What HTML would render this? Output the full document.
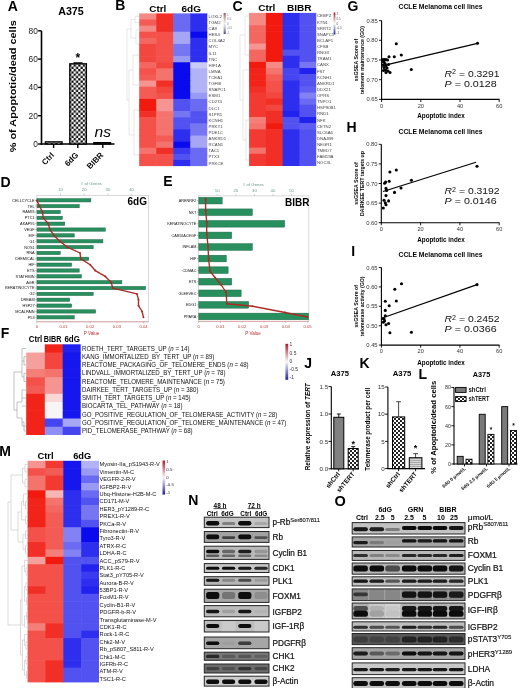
<!DOCTYPE html>
<html><head><meta charset="utf-8"><title>Figure</title>
<style>
html,body{margin:0;padding:0;background:#fff;width:520px;height:688px;overflow:hidden}
svg{display:block;font-family:'Liberation Sans', Arial, sans-serif}
</style></head><body>
<svg width="520" height="688" viewBox="0 0 520 688">
<defs>
<pattern id="chk" patternUnits="userSpaceOnUse" width="4.6" height="4.6"><rect width="4.6" height="4.6" fill="#fff"/><rect width="2.3" height="2.3" fill="#111"/><rect x="2.3" y="2.3" width="2.3" height="2.3" fill="#111"/></pattern>
<pattern id="chk2" patternUnits="userSpaceOnUse" width="4" height="4"><rect width="4" height="4" fill="#fff"/><rect width="2" height="2" fill="#222"/><rect x="2" y="2" width="2" height="2" fill="#222"/></pattern>
<pattern id="hln" patternUnits="userSpaceOnUse" width="4" height="2"><rect width="4" height="2" fill="#d8d8d8"/><rect width="4" height="1" fill="#a8a8a8"/></pattern>
<linearGradient id="lg" x1="0" y1="0" x2="0" y2="1"><stop offset="0" stop-color="#b2182b"/><stop offset="0.5" stop-color="#f7f7f7"/><stop offset="1" stop-color="#2020a0"/></linearGradient>
<linearGradient id="lg2" x1="0" y1="0" x2="0" y2="1"><stop offset="0" stop-color="#9a5a6a"/><stop offset="0.25" stop-color="#d8b0a8"/><stop offset="0.5" stop-color="#f4f0f0"/><stop offset="0.75" stop-color="#b0b0d8"/><stop offset="1" stop-color="#4a4a8a"/></linearGradient>
<filter id="bl" x="-50%" y="-50%" width="200%" height="200%"><feGaussianBlur stdDeviation="0.6"/></filter>
<filter id="bl2" x="-50%" y="-50%" width="200%" height="200%"><feGaussianBlur stdDeviation="1.4"/></filter>
</defs>
<rect width="520" height="688" fill="#fff"/>
<text x="7.8" y="10.6" font-size="14" font-weight="bold">A</text>
<text x="71" y="15.4" font-size="10.2" font-weight="bold" text-anchor="middle" textLength="25.6" lengthAdjust="spacingAndGlyphs">A375</text>
<text x="16.2" y="86.3" font-size="8.6" font-weight="bold" text-anchor="middle" textLength="132" lengthAdjust="spacingAndGlyphs" transform="rotate(-90 16.2 86.3)">% of Apoptotic/dead cells</text>
<line x1="41.5" y1="30.8" x2="41.5" y2="144.8" stroke="#000" stroke-width="1.6"/>
<line x1="40.7" y1="144" x2="114.5" y2="144" stroke="#000" stroke-width="1.6"/>
<line x1="38.1" y1="144" x2="41.5" y2="144" stroke="#000" stroke-width="1.4"/>
<text x="37.9" y="146.9" font-size="8.4" text-anchor="end" fill="#222">0</text>
<line x1="38.1" y1="115.7" x2="41.5" y2="115.7" stroke="#000" stroke-width="1.4"/>
<text x="37.9" y="118.6" font-size="8.4" text-anchor="end" fill="#222">20</text>
<line x1="38.1" y1="87.4" x2="41.5" y2="87.4" stroke="#000" stroke-width="1.4"/>
<text x="37.9" y="90.3" font-size="8.4" text-anchor="end" fill="#222">40</text>
<line x1="38.1" y1="59.1" x2="41.5" y2="59.1" stroke="#000" stroke-width="1.4"/>
<text x="37.9" y="62" font-size="8.4" text-anchor="end" fill="#222">60</text>
<line x1="38.1" y1="30.8" x2="41.5" y2="30.8" stroke="#000" stroke-width="1.4"/>
<text x="37.9" y="33.7" font-size="8.4" text-anchor="end" fill="#222">80</text>
<line x1="53.6" y1="144" x2="53.6" y2="148" stroke="#000" stroke-width="1.4"/>
<line x1="77.8" y1="144" x2="77.8" y2="148" stroke="#000" stroke-width="1.4"/>
<line x1="102.8" y1="144" x2="102.8" y2="148" stroke="#000" stroke-width="1.4"/>
<rect x="45.3" y="141.8" width="16.8" height="2.2" fill="url(#chk)" stroke="#000" stroke-width="1.2"/>
<rect x="69.8" y="63.8" width="16.6" height="80.2" fill="url(#chk)" stroke="#000" stroke-width="1.3"/>
<line x1="73.5" y1="62.9" x2="82.5" y2="62.9" stroke="#000" stroke-width="1.3"/>
<rect x="93.8" y="142.6" width="16.8" height="1.4" fill="#333" stroke="#000" stroke-width="1.2"/>
<text x="77.8" y="62.2" font-size="12" font-weight="bold" text-anchor="middle">*</text>
<text x="94.6" y="136.6" font-size="15.5" font-style="italic" textLength="16.5" lengthAdjust="spacingAndGlyphs">ns</text>
<text x="54.7" y="155.7" font-size="8" font-weight="bold" text-anchor="end" transform="rotate(-45 54.7 155.7)">Ctrl</text>
<text x="78.9" y="155.7" font-size="8" font-weight="bold" text-anchor="end" transform="rotate(-45 78.9 155.7)">6dG</text>
<text x="103.9" y="155.7" font-size="8" font-weight="bold" text-anchor="end" transform="rotate(-45 103.9 155.7)">BIBR</text>
<text x="115.2" y="10.2" font-size="14" font-weight="bold">B</text>
<text x="157.8" y="11.6" font-size="9.6" font-weight="bold" text-anchor="middle" textLength="17" lengthAdjust="spacingAndGlyphs">Ctrl</text>
<text x="191.3" y="11.6" font-size="9.6" font-weight="bold" text-anchor="middle" textLength="19.5" lengthAdjust="spacingAndGlyphs">6dG</text>
<rect x="139.2" y="13.4" width="17.62" height="6.71" fill="#f58984"/>
<rect x="156.22" y="13.4" width="17.62" height="6.71" fill="#f22f26"/>
<rect x="173.24" y="13.4" width="17.62" height="6.71" fill="#6a6af2"/>
<rect x="190.26" y="13.4" width="17.02" height="6.71" fill="#2e2eef"/>
<rect x="139.2" y="19.51" width="17.62" height="6.71" fill="#f35c55"/>
<rect x="156.22" y="19.51" width="17.62" height="6.71" fill="#f22f26"/>
<rect x="173.24" y="19.51" width="17.62" height="6.71" fill="#6a6af2"/>
<rect x="190.26" y="19.51" width="17.02" height="6.71" fill="#2e2eef"/>
<rect x="139.2" y="25.62" width="17.62" height="6.71" fill="#f58984"/>
<rect x="156.22" y="25.62" width="17.62" height="6.71" fill="#f22f26"/>
<rect x="173.24" y="25.62" width="17.62" height="6.71" fill="#6a6af2"/>
<rect x="190.26" y="25.62" width="17.02" height="6.71" fill="#2e2eef"/>
<rect x="139.2" y="31.72" width="17.62" height="6.71" fill="#f35149"/>
<rect x="156.22" y="31.72" width="17.62" height="6.71" fill="#f35149"/>
<rect x="173.24" y="31.72" width="17.62" height="6.71" fill="#a6a6f5"/>
<rect x="190.26" y="31.72" width="17.02" height="6.71" fill="#0a0aee"/>
<rect x="139.2" y="37.83" width="17.62" height="6.71" fill="#f46761"/>
<rect x="156.22" y="37.83" width="17.62" height="6.71" fill="#f35149"/>
<rect x="173.24" y="37.83" width="17.62" height="6.71" fill="#a6a6f5"/>
<rect x="190.26" y="37.83" width="17.02" height="6.71" fill="#2e2eef"/>
<rect x="139.2" y="43.94" width="17.62" height="6.71" fill="#f3463e"/>
<rect x="156.22" y="43.94" width="17.62" height="6.71" fill="#f35149"/>
<rect x="173.24" y="43.94" width="17.62" height="6.71" fill="#7676f3"/>
<rect x="190.26" y="43.94" width="17.02" height="6.71" fill="#2e2eef"/>
<rect x="139.2" y="50.05" width="17.62" height="6.71" fill="#f3463e"/>
<rect x="156.22" y="50.05" width="17.62" height="6.71" fill="#f35149"/>
<rect x="173.24" y="50.05" width="17.62" height="6.71" fill="#7676f3"/>
<rect x="190.26" y="50.05" width="17.02" height="6.71" fill="#2e2eef"/>
<rect x="139.2" y="56.16" width="17.62" height="6.71" fill="#f3463e"/>
<rect x="156.22" y="56.16" width="17.62" height="6.71" fill="#f35149"/>
<rect x="173.24" y="56.16" width="17.62" height="6.71" fill="#9a9af5"/>
<rect x="190.26" y="56.16" width="17.02" height="6.71" fill="#2e2eef"/>
<rect x="139.2" y="62.26" width="17.62" height="6.71" fill="#f46761"/>
<rect x="156.22" y="62.26" width="17.62" height="6.71" fill="#f3463e"/>
<rect x="173.24" y="62.26" width="17.62" height="6.71" fill="#0a0aee"/>
<rect x="190.26" y="62.26" width="17.02" height="6.71" fill="#cacaf7"/>
<rect x="139.2" y="68.37" width="17.62" height="6.71" fill="#f35149"/>
<rect x="156.22" y="68.37" width="17.62" height="6.71" fill="#f4736d"/>
<rect x="173.24" y="68.37" width="17.62" height="6.71" fill="#0a0aee"/>
<rect x="190.26" y="68.37" width="17.02" height="6.71" fill="#b2b2f6"/>
<rect x="139.2" y="74.48" width="17.62" height="6.71" fill="#f35c55"/>
<rect x="156.22" y="74.48" width="17.62" height="6.71" fill="#f4736d"/>
<rect x="173.24" y="74.48" width="17.62" height="6.71" fill="#0a0aee"/>
<rect x="190.26" y="74.48" width="17.02" height="6.71" fill="#b2b2f6"/>
<rect x="139.2" y="80.59" width="17.62" height="6.71" fill="#f59490"/>
<rect x="156.22" y="80.59" width="17.62" height="6.71" fill="#f22f26"/>
<rect x="173.24" y="80.59" width="17.62" height="6.71" fill="#0a0aee"/>
<rect x="190.26" y="80.59" width="17.02" height="6.71" fill="#b2b2f6"/>
<rect x="139.2" y="86.7" width="17.62" height="6.71" fill="#f35c55"/>
<rect x="156.22" y="86.7" width="17.62" height="6.71" fill="#f3463e"/>
<rect x="173.24" y="86.7" width="17.62" height="6.71" fill="#0a0aee"/>
<rect x="190.26" y="86.7" width="17.02" height="6.71" fill="#b2b2f6"/>
<rect x="139.2" y="92.8" width="17.62" height="6.71" fill="#f35c55"/>
<rect x="156.22" y="92.8" width="17.62" height="6.71" fill="#f35149"/>
<rect x="173.24" y="92.8" width="17.62" height="6.71" fill="#0a0aee"/>
<rect x="190.26" y="92.8" width="17.02" height="6.71" fill="#9a9af5"/>
<rect x="139.2" y="98.91" width="17.62" height="6.71" fill="#f2190f"/>
<rect x="156.22" y="98.91" width="17.62" height="6.71" fill="#f59490"/>
<rect x="173.24" y="98.91" width="17.62" height="6.71" fill="#5252f1"/>
<rect x="190.26" y="98.91" width="17.02" height="6.71" fill="#6a6af2"/>
<rect x="139.2" y="105.02" width="17.62" height="6.71" fill="#f2190f"/>
<rect x="156.22" y="105.02" width="17.62" height="6.71" fill="#f59490"/>
<rect x="173.24" y="105.02" width="17.62" height="6.71" fill="#5252f1"/>
<rect x="190.26" y="105.02" width="17.02" height="6.71" fill="#6a6af2"/>
<rect x="139.2" y="111.13" width="17.62" height="6.71" fill="#f22f26"/>
<rect x="156.22" y="111.13" width="17.62" height="6.71" fill="#f4736d"/>
<rect x="173.24" y="111.13" width="17.62" height="6.71" fill="#7676f3"/>
<rect x="190.26" y="111.13" width="17.02" height="6.71" fill="#5252f1"/>
<rect x="139.2" y="117.24" width="17.62" height="6.71" fill="#f35149"/>
<rect x="156.22" y="117.24" width="17.62" height="6.71" fill="#f4736d"/>
<rect x="173.24" y="117.24" width="17.62" height="6.71" fill="#5252f1"/>
<rect x="190.26" y="117.24" width="17.02" height="6.71" fill="#5252f1"/>
<rect x="139.2" y="123.34" width="17.62" height="6.71" fill="#f35149"/>
<rect x="156.22" y="123.34" width="17.62" height="6.71" fill="#f4736d"/>
<rect x="173.24" y="123.34" width="17.62" height="6.71" fill="#5252f1"/>
<rect x="190.26" y="123.34" width="17.02" height="6.71" fill="#7676f3"/>
<rect x="139.2" y="129.45" width="17.62" height="6.71" fill="#f35149"/>
<rect x="156.22" y="129.45" width="17.62" height="6.71" fill="#f4736d"/>
<rect x="173.24" y="129.45" width="17.62" height="6.71" fill="#2e2eef"/>
<rect x="190.26" y="129.45" width="17.02" height="6.71" fill="#7676f3"/>
<rect x="139.2" y="135.56" width="17.62" height="6.71" fill="#f35149"/>
<rect x="156.22" y="135.56" width="17.62" height="6.71" fill="#f35c55"/>
<rect x="173.24" y="135.56" width="17.62" height="6.71" fill="#2e2eef"/>
<rect x="190.26" y="135.56" width="17.02" height="6.71" fill="#a6a6f5"/>
<rect x="139.2" y="141.67" width="17.62" height="6.71" fill="#f35149"/>
<rect x="156.22" y="141.67" width="17.62" height="6.71" fill="#f4736d"/>
<rect x="173.24" y="141.67" width="17.62" height="6.71" fill="#0a0aee"/>
<rect x="190.26" y="141.67" width="17.02" height="6.71" fill="#a6a6f5"/>
<rect x="139.2" y="147.78" width="17.62" height="6.71" fill="#f4736d"/>
<rect x="156.22" y="147.78" width="17.62" height="6.71" fill="#f22f26"/>
<rect x="173.24" y="147.78" width="17.62" height="6.71" fill="#3a3af0"/>
<rect x="190.26" y="147.78" width="17.02" height="6.71" fill="#6a6af2"/>
<rect x="139.2" y="153.88" width="17.62" height="6.71" fill="#f35149"/>
<rect x="156.22" y="153.88" width="17.62" height="6.71" fill="#f35149"/>
<rect x="173.24" y="153.88" width="17.62" height="6.71" fill="#5252f1"/>
<rect x="190.26" y="153.88" width="17.02" height="6.71" fill="#6a6af2"/>
<rect x="139.2" y="159.99" width="17.62" height="6.11" fill="#f35149"/>
<rect x="156.22" y="159.99" width="17.62" height="6.11" fill="#f35149"/>
<rect x="173.24" y="159.99" width="17.62" height="6.11" fill="#2e2eef"/>
<rect x="190.26" y="159.99" width="17.02" height="6.11" fill="#6a6af2"/>
<text x="208.6" y="17.95" font-size="4.3" fill="#444">LOXL2</text>
<text x="208.6" y="24.06" font-size="4.3" fill="#444">TGM2</text>
<text x="208.6" y="30.17" font-size="4.3" fill="#444">CA9</text>
<text x="208.6" y="36.28" font-size="4.3" fill="#444">HES4</text>
<text x="208.6" y="42.39" font-size="4.3" fill="#444">COL4A2</text>
<text x="208.6" y="48.49" font-size="4.3" fill="#444">MYC</text>
<text x="208.6" y="54.6" font-size="4.3" fill="#444">IL11</text>
<text x="208.6" y="60.71" font-size="4.3" fill="#444">TNC</text>
<text x="208.6" y="66.82" font-size="4.3" fill="#444">HIF1A</text>
<text x="208.6" y="72.93" font-size="4.3" fill="#444">LMNA</text>
<text x="208.6" y="79.03" font-size="4.3" fill="#444">TCEA1</text>
<text x="208.6" y="85.14" font-size="4.3" fill="#444">TGFBI</text>
<text x="208.6" y="91.25" font-size="4.3" fill="#444">SNAPC1</text>
<text x="208.6" y="97.36" font-size="4.3" fill="#444">ESM1</text>
<text x="208.6" y="103.47" font-size="4.3" fill="#444">CD274</text>
<text x="208.6" y="109.57" font-size="4.3" fill="#444">DLC1</text>
<text x="208.6" y="115.68" font-size="4.3" fill="#444">S1PR1</text>
<text x="208.6" y="121.79" font-size="4.3" fill="#444">KCNH1</text>
<text x="208.6" y="127.9" font-size="4.3" fill="#444">PRKY1</text>
<text x="208.6" y="134.01" font-size="4.3" fill="#444">PDE1C</text>
<text x="208.6" y="140.11" font-size="4.3" fill="#444">ANKRD1</text>
<text x="208.6" y="146.22" font-size="4.3" fill="#444">RCAN1</text>
<text x="208.6" y="152.33" font-size="4.3" fill="#444">TAC1</text>
<text x="208.6" y="158.44" font-size="4.3" fill="#444">PTX3</text>
<text x="208.6" y="164.55" font-size="4.3" fill="#444">PRKCE</text>
<rect x="223.6" y="13" width="2.2" height="21" fill="url(#lg2)"/>
<text x="227" y="15.6" font-size="3" fill="#7a7a9a">1</text>
<text x="227" y="20.1" font-size="3" fill="#7a7a9a">0.5</text>
<text x="227" y="24.6" font-size="3" fill="#7a7a9a">0</text>
<text x="227" y="29.1" font-size="3" fill="#7a7a9a">-0.5</text>
<text x="227" y="33.6" font-size="3" fill="#7a7a9a">-1</text>
<polyline points="139,16.5 135,16.5 135,22.6 139,22.6" fill="none" stroke="#d6d6d6" stroke-width="0.6"/>
<polyline points="135,19.5 131,19.5 131,38 136,38 136,30 139,30" fill="none" stroke="#d6d6d6" stroke-width="0.6"/>
<polyline points="136,38 136,44 139,44" fill="none" stroke="#d6d6d6" stroke-width="0.6"/>
<polyline points="131,29 127,29 127,100 129,100" fill="none" stroke="#d6d6d6" stroke-width="0.6"/>
<polyline points="129,100 129,70 133,70 133,55 139,55" fill="none" stroke="#d6d6d6" stroke-width="0.6"/>
<polyline points="133,70 133,85 139,85" fill="none" stroke="#d6d6d6" stroke-width="0.6"/>
<polyline points="129,100 129,135 134,135 134,110 139,110" fill="none" stroke="#d6d6d6" stroke-width="0.6"/>
<polyline points="134,135 134,155 139,155" fill="none" stroke="#d6d6d6" stroke-width="0.6"/>
<text x="232.4" y="11.3" font-size="14" font-weight="bold">C</text>
<text x="266.8" y="11.2" font-size="9.6" font-weight="bold" text-anchor="middle" textLength="17.2" lengthAdjust="spacingAndGlyphs">Ctrl</text>
<text x="299.2" y="11.2" font-size="9.8" font-weight="bold" text-anchor="middle" textLength="24.6" lengthAdjust="spacingAndGlyphs">BIBR</text>
<rect x="249.1" y="12.9" width="17.38" height="6.72" fill="#f58984"/>
<rect x="265.88" y="12.9" width="17.38" height="6.72" fill="#f2190f"/>
<rect x="282.66" y="12.9" width="17.38" height="6.72" fill="#2e2eef"/>
<rect x="299.44" y="12.9" width="16.78" height="6.72" fill="#5252f1"/>
<rect x="249.1" y="19.02" width="17.38" height="6.72" fill="#f58984"/>
<rect x="265.88" y="19.02" width="17.38" height="6.72" fill="#f2190f"/>
<rect x="282.66" y="19.02" width="17.38" height="6.72" fill="#2e2eef"/>
<rect x="299.44" y="19.02" width="16.78" height="6.72" fill="#5252f1"/>
<rect x="249.1" y="25.15" width="17.38" height="6.72" fill="#f46761"/>
<rect x="265.88" y="25.15" width="17.38" height="6.72" fill="#f2190f"/>
<rect x="282.66" y="25.15" width="17.38" height="6.72" fill="#2e2eef"/>
<rect x="299.44" y="25.15" width="16.78" height="6.72" fill="#5252f1"/>
<rect x="249.1" y="31.27" width="17.38" height="6.72" fill="#f46761"/>
<rect x="265.88" y="31.27" width="17.38" height="6.72" fill="#f2190f"/>
<rect x="282.66" y="31.27" width="17.38" height="6.72" fill="#2e2eef"/>
<rect x="299.44" y="31.27" width="16.78" height="6.72" fill="#5252f1"/>
<rect x="249.1" y="37.4" width="17.38" height="6.72" fill="#f46761"/>
<rect x="265.88" y="37.4" width="17.38" height="6.72" fill="#f2190f"/>
<rect x="282.66" y="37.4" width="17.38" height="6.72" fill="#2e2eef"/>
<rect x="299.44" y="37.4" width="16.78" height="6.72" fill="#5252f1"/>
<rect x="249.1" y="43.52" width="17.38" height="6.72" fill="#f59490"/>
<rect x="265.88" y="43.52" width="17.38" height="6.72" fill="#f2190f"/>
<rect x="282.66" y="43.52" width="17.38" height="6.72" fill="#2e2eef"/>
<rect x="299.44" y="43.52" width="16.78" height="6.72" fill="#5252f1"/>
<rect x="249.1" y="49.64" width="17.38" height="6.72" fill="#f46761"/>
<rect x="265.88" y="49.64" width="17.38" height="6.72" fill="#f2190f"/>
<rect x="282.66" y="49.64" width="17.38" height="6.72" fill="#5252f1"/>
<rect x="299.44" y="49.64" width="16.78" height="6.72" fill="#5252f1"/>
<rect x="249.1" y="55.77" width="17.38" height="6.72" fill="#f46761"/>
<rect x="265.88" y="55.77" width="17.38" height="6.72" fill="#f2190f"/>
<rect x="282.66" y="55.77" width="17.38" height="6.72" fill="#2e2eef"/>
<rect x="299.44" y="55.77" width="16.78" height="6.72" fill="#5252f1"/>
<rect x="249.1" y="61.89" width="17.38" height="6.72" fill="#f2190f"/>
<rect x="265.88" y="61.89" width="17.38" height="6.72" fill="#f58984"/>
<rect x="282.66" y="61.89" width="17.38" height="6.72" fill="#2e2eef"/>
<rect x="299.44" y="61.89" width="16.78" height="6.72" fill="#7676f3"/>
<rect x="249.1" y="68.02" width="17.38" height="6.72" fill="#f2241a"/>
<rect x="265.88" y="68.02" width="17.38" height="6.72" fill="#f4736d"/>
<rect x="282.66" y="68.02" width="17.38" height="6.72" fill="#4646f1"/>
<rect x="299.44" y="68.02" width="16.78" height="6.72" fill="#2222ef"/>
<rect x="249.1" y="74.14" width="17.38" height="6.72" fill="#f2241a"/>
<rect x="265.88" y="74.14" width="17.38" height="6.72" fill="#f35c55"/>
<rect x="282.66" y="74.14" width="17.38" height="6.72" fill="#4646f1"/>
<rect x="299.44" y="74.14" width="16.78" height="6.72" fill="#5252f1"/>
<rect x="249.1" y="80.26" width="17.38" height="6.72" fill="#f2241a"/>
<rect x="265.88" y="80.26" width="17.38" height="6.72" fill="#f35149"/>
<rect x="282.66" y="80.26" width="17.38" height="6.72" fill="#2e2eef"/>
<rect x="299.44" y="80.26" width="16.78" height="6.72" fill="#5252f1"/>
<rect x="249.1" y="86.39" width="17.38" height="6.72" fill="#f22f26"/>
<rect x="265.88" y="86.39" width="17.38" height="6.72" fill="#f35149"/>
<rect x="282.66" y="86.39" width="17.38" height="6.72" fill="#2e2eef"/>
<rect x="299.44" y="86.39" width="16.78" height="6.72" fill="#5e5ef2"/>
<rect x="249.1" y="92.51" width="17.38" height="6.72" fill="#f23a32"/>
<rect x="265.88" y="92.51" width="17.38" height="6.72" fill="#f3463e"/>
<rect x="282.66" y="92.51" width="17.38" height="6.72" fill="#2e2eef"/>
<rect x="299.44" y="92.51" width="16.78" height="6.72" fill="#8282f4"/>
<rect x="249.1" y="98.64" width="17.38" height="6.72" fill="#f23a32"/>
<rect x="265.88" y="98.64" width="17.38" height="6.72" fill="#f22f26"/>
<rect x="282.66" y="98.64" width="17.38" height="6.72" fill="#2e2eef"/>
<rect x="299.44" y="98.64" width="16.78" height="6.72" fill="#6a6af2"/>
<rect x="249.1" y="104.76" width="17.38" height="6.72" fill="#f23a32"/>
<rect x="265.88" y="104.76" width="17.38" height="6.72" fill="#f3463e"/>
<rect x="282.66" y="104.76" width="17.38" height="6.72" fill="#2e2eef"/>
<rect x="299.44" y="104.76" width="16.78" height="6.72" fill="#5252f1"/>
<rect x="249.1" y="110.88" width="17.38" height="6.72" fill="#f23a32"/>
<rect x="265.88" y="110.88" width="17.38" height="6.72" fill="#f22f26"/>
<rect x="282.66" y="110.88" width="17.38" height="6.72" fill="#2222ef"/>
<rect x="299.44" y="110.88" width="16.78" height="6.72" fill="#5252f1"/>
<rect x="249.1" y="117.01" width="17.38" height="6.72" fill="#f47e78"/>
<rect x="265.88" y="117.01" width="17.38" height="6.72" fill="#f22f26"/>
<rect x="282.66" y="117.01" width="17.38" height="6.72" fill="#5252f1"/>
<rect x="299.44" y="117.01" width="16.78" height="6.72" fill="#2222ef"/>
<rect x="249.1" y="123.13" width="17.38" height="6.72" fill="#f4736d"/>
<rect x="265.88" y="123.13" width="17.38" height="6.72" fill="#f2190f"/>
<rect x="282.66" y="123.13" width="17.38" height="6.72" fill="#5252f1"/>
<rect x="299.44" y="123.13" width="16.78" height="6.72" fill="#5e5ef2"/>
<rect x="249.1" y="129.26" width="17.38" height="6.72" fill="#f23a32"/>
<rect x="265.88" y="129.26" width="17.38" height="6.72" fill="#f22f26"/>
<rect x="282.66" y="129.26" width="17.38" height="6.72" fill="#2e2eef"/>
<rect x="299.44" y="129.26" width="16.78" height="6.72" fill="#5252f1"/>
<rect x="249.1" y="135.38" width="17.38" height="6.72" fill="#f23a32"/>
<rect x="265.88" y="135.38" width="17.38" height="6.72" fill="#f22f26"/>
<rect x="282.66" y="135.38" width="17.38" height="6.72" fill="#2e2eef"/>
<rect x="299.44" y="135.38" width="16.78" height="6.72" fill="#5252f1"/>
<rect x="249.1" y="141.5" width="17.38" height="6.72" fill="#f23a32"/>
<rect x="265.88" y="141.5" width="17.38" height="6.72" fill="#f22f26"/>
<rect x="282.66" y="141.5" width="17.38" height="6.72" fill="#2e2eef"/>
<rect x="299.44" y="141.5" width="16.78" height="6.72" fill="#5252f1"/>
<rect x="249.1" y="147.63" width="17.38" height="6.72" fill="#f4736d"/>
<rect x="265.88" y="147.63" width="17.38" height="6.72" fill="#f22f26"/>
<rect x="282.66" y="147.63" width="17.38" height="6.72" fill="#2e2eef"/>
<rect x="299.44" y="147.63" width="16.78" height="6.72" fill="#5252f1"/>
<rect x="249.1" y="153.75" width="17.38" height="6.72" fill="#f23a32"/>
<rect x="265.88" y="153.75" width="17.38" height="6.72" fill="#f22f26"/>
<rect x="282.66" y="153.75" width="17.38" height="6.72" fill="#2e2eef"/>
<rect x="299.44" y="153.75" width="16.78" height="6.72" fill="#5252f1"/>
<rect x="249.1" y="159.88" width="17.38" height="6.12" fill="#f23a32"/>
<rect x="265.88" y="159.88" width="17.38" height="6.12" fill="#f22f26"/>
<rect x="282.66" y="159.88" width="17.38" height="6.12" fill="#2e2eef"/>
<rect x="299.44" y="159.88" width="16.78" height="6.12" fill="#5252f1"/>
<text x="317" y="17.46" font-size="4.3" fill="#444">CEBPZ</text>
<text x="317" y="23.59" font-size="4.3" fill="#444">KTN1</text>
<text x="317" y="29.71" font-size="4.3" fill="#444">SRRT2</text>
<text x="317" y="35.83" font-size="4.3" fill="#444">SNAPC1</text>
<text x="317" y="41.96" font-size="4.3" fill="#444">BCLAF1</text>
<text x="317" y="48.08" font-size="4.3" fill="#444">CFSB</text>
<text x="317" y="54.21" font-size="4.3" fill="#444">RNG3</text>
<text x="317" y="60.33" font-size="4.3" fill="#444">TRAM1</text>
<text x="317" y="66.45" font-size="4.3" fill="#444">CANX</text>
<text x="317" y="72.58" font-size="4.3" fill="#444">FST</text>
<text x="317" y="78.7" font-size="4.3" fill="#444">KCNH1</text>
<text x="317" y="84.83" font-size="4.3" fill="#444">ANKRD1</text>
<text x="317" y="90.95" font-size="4.3" fill="#444">DDX21</text>
<text x="317" y="97.07" font-size="4.3" fill="#444">OPRS</text>
<text x="317" y="103.2" font-size="4.3" fill="#444">TNPO1</text>
<text x="317" y="109.32" font-size="4.3" fill="#444">HSP90B1</text>
<text x="317" y="115.45" font-size="4.3" fill="#444">RND1</text>
<text x="317" y="121.57" font-size="4.3" fill="#444">NFK</text>
<text x="317" y="127.69" font-size="4.3" fill="#444">CETN2</text>
<text x="317" y="133.82" font-size="4.3" fill="#444">SLC6A6</text>
<text x="317" y="139.94" font-size="4.3" fill="#444">DNAJB9</text>
<text x="317" y="146.07" font-size="4.3" fill="#444">NEGR1</text>
<text x="317" y="152.19" font-size="4.3" fill="#444">TMED7</text>
<text x="317" y="158.31" font-size="4.3" fill="#444">FAM19A</text>
<text x="317" y="164.44" font-size="4.3" fill="#444">NOC3L</text>
<rect x="333.6" y="12.5" width="1.8" height="22" fill="url(#lg)"/>
<text x="336.6" y="15.1" font-size="3" fill="#555">1</text>
<text x="336.6" y="19.85" font-size="3" fill="#555">0.5</text>
<text x="336.6" y="24.6" font-size="3" fill="#555">0</text>
<text x="336.6" y="29.35" font-size="3" fill="#555">-0.5</text>
<text x="336.6" y="34.1" font-size="3" fill="#555">-1</text>
<polyline points="249,16 245,16 245,55 249,55" fill="none" stroke="#d6d6d6" stroke-width="0.6"/>
<polyline points="245,35 240,35 240,100 243,100" fill="none" stroke="#d6d6d6" stroke-width="0.6"/>
<polyline points="243,100 243,70 249,70" fill="none" stroke="#d6d6d6" stroke-width="0.6"/>
<polyline points="243,100 243,140 246,140 246,120 249,120" fill="none" stroke="#d6d6d6" stroke-width="0.6"/>
<polyline points="246,140 246,160 249,160" fill="none" stroke="#d6d6d6" stroke-width="0.6"/>
<text x="347.6" y="10.8" font-size="14" font-weight="bold">G</text>
<text x="440.5" y="8.7" font-size="6.6" font-weight="bold" text-anchor="middle" textLength="84" lengthAdjust="spacingAndGlyphs">CCLE Melanoma cell lines</text>
<line x1="381.6" y1="20.6" x2="381.6" y2="99.9" stroke="#000" stroke-width="1.1"/>
<line x1="381.1" y1="99.4" x2="499.5" y2="99.4" stroke="#000" stroke-width="1.1"/>
<line x1="379" y1="20.6" x2="381.6" y2="20.6" stroke="#000" stroke-width="0.9"/>
<text x="377.8" y="22.6" font-size="5.8" text-anchor="end" fill="#333">0.85</text>
<line x1="379" y1="40.3" x2="381.6" y2="40.3" stroke="#000" stroke-width="0.9"/>
<text x="377.8" y="42.3" font-size="5.8" text-anchor="end" fill="#333">0.80</text>
<line x1="379" y1="60" x2="381.6" y2="60" stroke="#000" stroke-width="0.9"/>
<text x="377.8" y="62" font-size="5.8" text-anchor="end" fill="#333">0.75</text>
<line x1="379" y1="79.7" x2="381.6" y2="79.7" stroke="#000" stroke-width="0.9"/>
<text x="377.8" y="81.7" font-size="5.8" text-anchor="end" fill="#333">0.70</text>
<line x1="379" y1="99.4" x2="381.6" y2="99.4" stroke="#000" stroke-width="0.9"/>
<text x="377.8" y="101.4" font-size="5.8" text-anchor="end" fill="#333">0.65</text>
<line x1="381.6" y1="99.4" x2="381.6" y2="102" stroke="#000" stroke-width="0.9"/>
<text x="381.6" y="107.7" font-size="5.6" text-anchor="middle" fill="#333">0</text>
<line x1="420.8" y1="99.4" x2="420.8" y2="102" stroke="#000" stroke-width="0.9"/>
<text x="420.8" y="107.7" font-size="5.6" text-anchor="middle" fill="#333">20</text>
<line x1="460" y1="99.4" x2="460" y2="102" stroke="#000" stroke-width="0.9"/>
<text x="460" y="107.7" font-size="5.6" text-anchor="middle" fill="#333">40</text>
<line x1="499.2" y1="99.4" x2="499.2" y2="102" stroke="#000" stroke-width="0.9"/>
<text x="499.2" y="107.7" font-size="5.6" text-anchor="middle" fill="#333">60</text>
<text x="441" y="118.3" font-size="6.9" font-weight="bold" text-anchor="middle" textLength="47.5" lengthAdjust="spacingAndGlyphs">Apoptotic index</text>
<circle cx="396.3" cy="43.8" r="1.55" fill="#000"/>
<circle cx="401.3" cy="55" r="1.55" fill="#000"/>
<circle cx="394.3" cy="56.8" r="1.55" fill="#000"/>
<circle cx="389" cy="56.8" r="1.55" fill="#000"/>
<circle cx="477.5" cy="43.3" r="1.55" fill="#000"/>
<circle cx="411.3" cy="69.5" r="1.55" fill="#000"/>
<circle cx="390" cy="72.5" r="1.55" fill="#000"/>
<circle cx="383" cy="59.5" r="1.55" fill="#000"/>
<circle cx="384.5" cy="59.5" r="1.55" fill="#000"/>
<circle cx="386" cy="59.5" r="1.55" fill="#000"/>
<circle cx="387.5" cy="60" r="1.55" fill="#000"/>
<circle cx="383.5" cy="62" r="1.55" fill="#000"/>
<circle cx="385" cy="63.5" r="1.55" fill="#000"/>
<circle cx="383" cy="65" r="1.55" fill="#000"/>
<circle cx="386" cy="66" r="1.55" fill="#000"/>
<circle cx="384" cy="67.5" r="1.55" fill="#000"/>
<circle cx="387" cy="68" r="1.55" fill="#000"/>
<circle cx="385.5" cy="70" r="1.55" fill="#000"/>
<circle cx="388" cy="71" r="1.55" fill="#000"/>
<circle cx="386" cy="72.5" r="1.55" fill="#000"/>
<circle cx="383.5" cy="70.5" r="1.55" fill="#000"/>
<circle cx="388.5" cy="64.5" r="1.55" fill="#000"/>
<circle cx="384" cy="61" r="1.55" fill="#000"/>
<line x1="382" y1="65.8" x2="477.5" y2="43.3" stroke="#000" stroke-width="1.2"/>
<text x="444.6" y="76.8" font-size="9.6" fill="#111" textLength="55" lengthAdjust="spacingAndGlyphs"><tspan font-style="italic">R</tspan><tspan font-size="6.6" dy="-2.6">2</tspan><tspan dy="2.6"> = 0.3291</tspan></text>
<text x="444.6" y="86.6" font-size="9.6" fill="#111" textLength="52" lengthAdjust="spacingAndGlyphs"><tspan font-style="italic">P</tspan> = 0.0128</text>
<text x="358.3" y="60" font-size="5.2" font-weight="bold" text-anchor="middle" transform="rotate(-90 358.3 60)">ssGSEA Score of</text>
<text x="363.6" y="60" font-size="5.2" font-weight="bold" text-anchor="middle" transform="rotate(-90 363.6 60)">telomere maintenance (GO)</text>
<text x="346.6" y="131.6" font-size="14" font-weight="bold">H</text>
<text x="440.5" y="134" font-size="6.6" font-weight="bold" text-anchor="middle" textLength="84" lengthAdjust="spacingAndGlyphs">CCLE Melanoma cell lines</text>
<line x1="381.3" y1="144.3" x2="381.3" y2="223.2" stroke="#000" stroke-width="1.1"/>
<line x1="380.8" y1="222.7" x2="499.5" y2="222.7" stroke="#000" stroke-width="1.1"/>
<line x1="378.7" y1="144.3" x2="381.3" y2="144.3" stroke="#000" stroke-width="0.9"/>
<text x="377.5" y="146.3" font-size="5.8" text-anchor="end" fill="#333">0.80</text>
<line x1="378.7" y1="163.9" x2="381.3" y2="163.9" stroke="#000" stroke-width="0.9"/>
<text x="377.5" y="165.9" font-size="5.8" text-anchor="end" fill="#333">0.75</text>
<line x1="378.7" y1="183.5" x2="381.3" y2="183.5" stroke="#000" stroke-width="0.9"/>
<text x="377.5" y="185.5" font-size="5.8" text-anchor="end" fill="#333">0.70</text>
<line x1="378.7" y1="203.1" x2="381.3" y2="203.1" stroke="#000" stroke-width="0.9"/>
<text x="377.5" y="205.1" font-size="5.8" text-anchor="end" fill="#333">0.65</text>
<line x1="378.7" y1="222.7" x2="381.3" y2="222.7" stroke="#000" stroke-width="0.9"/>
<text x="377.5" y="224.7" font-size="5.8" text-anchor="end" fill="#333">0.60</text>
<line x1="381.3" y1="222.7" x2="381.3" y2="225.3" stroke="#000" stroke-width="0.9"/>
<text x="381.3" y="231" font-size="5.6" text-anchor="middle" fill="#333">0</text>
<line x1="420.6" y1="222.7" x2="420.6" y2="225.3" stroke="#000" stroke-width="0.9"/>
<text x="420.6" y="231" font-size="5.6" text-anchor="middle" fill="#333">20</text>
<line x1="459.9" y1="222.7" x2="459.9" y2="225.3" stroke="#000" stroke-width="0.9"/>
<text x="459.9" y="231" font-size="5.6" text-anchor="middle" fill="#333">40</text>
<line x1="499.2" y1="222.7" x2="499.2" y2="225.3" stroke="#000" stroke-width="0.9"/>
<text x="499.2" y="231" font-size="5.6" text-anchor="middle" fill="#333">60</text>
<text x="441" y="242.2" font-size="6.9" font-weight="bold" text-anchor="middle" textLength="47.5" lengthAdjust="spacingAndGlyphs">Apoptotic index</text>
<circle cx="477" cy="166.3" r="1.55" fill="#000"/>
<circle cx="396.3" cy="170" r="1.55" fill="#000"/>
<circle cx="389.9" cy="172" r="1.55" fill="#000"/>
<circle cx="411.4" cy="180.2" r="1.55" fill="#000"/>
<circle cx="401" cy="188" r="1.55" fill="#000"/>
<circle cx="384.6" cy="183.2" r="1.55" fill="#000"/>
<circle cx="385.6" cy="182.1" r="1.55" fill="#000"/>
<circle cx="389.2" cy="181.2" r="1.55" fill="#000"/>
<circle cx="386" cy="188.4" r="1.55" fill="#000"/>
<circle cx="386.6" cy="190.4" r="1.55" fill="#000"/>
<circle cx="386" cy="195.6" r="1.55" fill="#000"/>
<circle cx="388.6" cy="200.9" r="1.55" fill="#000"/>
<circle cx="384" cy="200.2" r="1.55" fill="#000"/>
<circle cx="385.3" cy="202.8" r="1.55" fill="#000"/>
<circle cx="386" cy="204.8" r="1.55" fill="#000"/>
<circle cx="383.3" cy="208" r="1.55" fill="#000"/>
<circle cx="394.5" cy="192.4" r="1.55" fill="#000"/>
<line x1="383" y1="191.5" x2="476" y2="162.3" stroke="#000" stroke-width="1.2"/>
<text x="444.6" y="194.4" font-size="9.6" fill="#111" textLength="55" lengthAdjust="spacingAndGlyphs"><tspan font-style="italic">R</tspan><tspan font-size="6.6" dy="-2.6">2</tspan><tspan dy="2.6"> = 0.3192</tspan></text>
<text x="444.6" y="204.2" font-size="9.6" fill="#111" textLength="52" lengthAdjust="spacingAndGlyphs"><tspan font-style="italic">P</tspan> = 0.0146</text>
<text x="358.3" y="183.5" font-size="5.2" font-weight="bold" text-anchor="middle" transform="rotate(-90 358.3 183.5)">ssGSEA Score of</text>
<text x="363.6" y="183.5" font-size="5.2" font-weight="bold" text-anchor="middle" transform="rotate(-90 363.6 183.5)">DAIRKEE TERT targets up</text>
<text x="351.2" y="255.6" font-size="14" font-weight="bold">I</text>
<text x="440.5" y="256.5" font-size="6.6" font-weight="bold" text-anchor="middle" textLength="84" lengthAdjust="spacingAndGlyphs">CCLE Melanoma cell lines</text>
<line x1="381.4" y1="267.5" x2="381.4" y2="345.6" stroke="#000" stroke-width="1.1"/>
<line x1="380.9" y1="345.1" x2="499.5" y2="345.1" stroke="#000" stroke-width="1.1"/>
<line x1="378.8" y1="267.5" x2="381.4" y2="267.5" stroke="#000" stroke-width="0.9"/>
<text x="377.6" y="269.5" font-size="5.8" text-anchor="end" fill="#333">0.65</text>
<line x1="378.8" y1="286.9" x2="381.4" y2="286.9" stroke="#000" stroke-width="0.9"/>
<text x="377.6" y="288.9" font-size="5.8" text-anchor="end" fill="#333">0.60</text>
<line x1="378.8" y1="306.3" x2="381.4" y2="306.3" stroke="#000" stroke-width="0.9"/>
<text x="377.6" y="308.3" font-size="5.8" text-anchor="end" fill="#333">0.55</text>
<line x1="378.8" y1="325.7" x2="381.4" y2="325.7" stroke="#000" stroke-width="0.9"/>
<text x="377.6" y="327.7" font-size="5.8" text-anchor="end" fill="#333">0.50</text>
<line x1="378.8" y1="345.1" x2="381.4" y2="345.1" stroke="#000" stroke-width="0.9"/>
<text x="377.6" y="347.1" font-size="5.8" text-anchor="end" fill="#333">0.45</text>
<line x1="381.4" y1="345.1" x2="381.4" y2="347.7" stroke="#000" stroke-width="0.9"/>
<text x="381.4" y="353.4" font-size="5.6" text-anchor="middle" fill="#333">0</text>
<line x1="420.67" y1="345.1" x2="420.67" y2="347.7" stroke="#000" stroke-width="0.9"/>
<text x="420.67" y="353.4" font-size="5.6" text-anchor="middle" fill="#333">20</text>
<line x1="459.93" y1="345.1" x2="459.93" y2="347.7" stroke="#000" stroke-width="0.9"/>
<text x="459.93" y="353.4" font-size="5.6" text-anchor="middle" fill="#333">40</text>
<line x1="499.2" y1="345.1" x2="499.2" y2="347.7" stroke="#000" stroke-width="0.9"/>
<text x="499.2" y="353.4" font-size="5.6" text-anchor="middle" fill="#333">60</text>
<text x="441" y="364.8" font-size="6.9" font-weight="bold" text-anchor="middle" textLength="47.5" lengthAdjust="spacingAndGlyphs">Apoptotic index</text>
<circle cx="477" cy="284.6" r="1.55" fill="#000"/>
<circle cx="401.5" cy="283.7" r="1.55" fill="#000"/>
<circle cx="394.8" cy="289.2" r="1.55" fill="#000"/>
<circle cx="396.3" cy="301" r="1.55" fill="#000"/>
<circle cx="385.3" cy="301.3" r="1.55" fill="#000"/>
<circle cx="389.2" cy="305.8" r="1.55" fill="#000"/>
<circle cx="385.3" cy="310.4" r="1.55" fill="#000"/>
<circle cx="385.3" cy="315.7" r="1.55" fill="#000"/>
<circle cx="384" cy="319" r="1.55" fill="#000"/>
<circle cx="383.3" cy="322.2" r="1.55" fill="#000"/>
<circle cx="386" cy="324.8" r="1.55" fill="#000"/>
<circle cx="388.6" cy="323.5" r="1.55" fill="#000"/>
<circle cx="389.9" cy="332.7" r="1.55" fill="#000"/>
<circle cx="384.6" cy="320.9" r="1.55" fill="#000"/>
<circle cx="411.4" cy="332.3" r="1.55" fill="#000"/>
<circle cx="382.8" cy="318.5" r="1.55" fill="#000"/>
<line x1="383" y1="317.8" x2="477" y2="284.6" stroke="#000" stroke-width="1.2"/>
<text x="444.6" y="322.4" font-size="9.6" fill="#111" textLength="55" lengthAdjust="spacingAndGlyphs"><tspan font-style="italic">R</tspan><tspan font-size="6.6" dy="-2.6">2</tspan><tspan dy="2.6"> = 0.2452</tspan></text>
<text x="444.6" y="332.2" font-size="9.6" fill="#111" textLength="52" lengthAdjust="spacingAndGlyphs"><tspan font-style="italic">P</tspan> = 0.0366</text>
<text x="358.3" y="306.3" font-size="5.2" font-weight="bold" text-anchor="middle" transform="rotate(-90 358.3 306.3)">ssGSEA Score of</text>
<text x="363.6" y="306.3" font-size="5.2" font-weight="bold" text-anchor="middle" transform="rotate(-90 363.6 306.3)">telomerase activity (GO)</text>
<text x="0.6" y="186.6" font-size="14" font-weight="bold">D</text>
<rect x="36.8" y="195.3" width="111.7" height="126.5" fill="none" stroke="#c8c8c8" stroke-width="0.7"/>
<line x1="60.5" y1="193.5" x2="60.5" y2="195.3" stroke="#9ab" stroke-width="0.5"/>
<text x="60.5" y="191.1" font-size="4.3" text-anchor="middle" fill="#6f968a">10</text>
<line x1="84.2" y1="193.5" x2="84.2" y2="195.3" stroke="#9ab" stroke-width="0.5"/>
<text x="84.2" y="191.1" font-size="4.3" text-anchor="middle" fill="#6f968a">20</text>
<line x1="107.9" y1="193.5" x2="107.9" y2="195.3" stroke="#9ab" stroke-width="0.5"/>
<text x="107.9" y="191.1" font-size="4.3" text-anchor="middle" fill="#6f968a">30</text>
<line x1="131.6" y1="193.5" x2="131.6" y2="195.3" stroke="#9ab" stroke-width="0.5"/>
<text x="131.6" y="191.1" font-size="4.3" text-anchor="middle" fill="#6f968a">40</text>
<text x="91.5" y="185.1" font-size="4.3" text-anchor="middle" fill="#6f968a"># of Genes</text>
<line x1="36.8" y1="321.8" x2="148.5" y2="321.8" stroke="#d08080" stroke-width="0.6"/>
<line x1="36.8" y1="321.8" x2="36.8" y2="323.4" stroke="#d08080" stroke-width="0.5"/>
<text x="36.8" y="328.4" font-size="4.2" text-anchor="middle" fill="#c04040">0</text>
<line x1="63.5" y1="321.8" x2="63.5" y2="323.4" stroke="#d08080" stroke-width="0.5"/>
<text x="63.5" y="328.4" font-size="4.2" text-anchor="middle" fill="#c04040">0.01</text>
<line x1="90.2" y1="321.8" x2="90.2" y2="323.4" stroke="#d08080" stroke-width="0.5"/>
<text x="90.2" y="328.4" font-size="4.2" text-anchor="middle" fill="#c04040">0.02</text>
<line x1="116.9" y1="321.8" x2="116.9" y2="323.4" stroke="#d08080" stroke-width="0.5"/>
<text x="116.9" y="328.4" font-size="4.2" text-anchor="middle" fill="#c04040">0.03</text>
<line x1="143.6" y1="321.8" x2="143.6" y2="323.4" stroke="#d08080" stroke-width="0.5"/>
<text x="143.6" y="328.4" font-size="4.2" text-anchor="middle" fill="#c04040">0.04</text>
<text x="91.5" y="335" font-size="4.6" text-anchor="middle" fill="#c03030">P Value</text>
<rect x="37.05" y="198.65" width="53.77" height="3.3" fill="#28905f" stroke="#1b6644" stroke-width="0.5"/>
<line x1="35.2" y1="200.3" x2="36.8" y2="200.3" stroke="#777" stroke-width="0.5"/>
<text x="34.6" y="201.7" font-size="3.85" text-anchor="end" fill="#111">CELLCYCLE</text>
<rect x="37.05" y="204.5" width="42.16" height="3.3" fill="#28905f" stroke="#1b6644" stroke-width="0.5"/>
<line x1="35.2" y1="206.15" x2="36.8" y2="206.15" stroke="#777" stroke-width="0.5"/>
<text x="34.6" y="207.55" font-size="3.85" text-anchor="end" fill="#111">TEL</text>
<rect x="37.05" y="210.35" width="23.2" height="3.3" fill="#28905f" stroke="#1b6644" stroke-width="0.5"/>
<line x1="35.2" y1="212" x2="36.8" y2="212" stroke="#777" stroke-width="0.5"/>
<text x="34.6" y="213.4" font-size="3.85" text-anchor="end" fill="#111">RAMIS</text>
<rect x="37.05" y="216.2" width="25.33" height="3.3" fill="#28905f" stroke="#1b6644" stroke-width="0.5"/>
<line x1="35.2" y1="217.85" x2="36.8" y2="217.85" stroke="#777" stroke-width="0.5"/>
<text x="34.6" y="219.25" font-size="3.85" text-anchor="end" fill="#111">PTC1</text>
<rect x="37.05" y="222.05" width="27.7" height="3.3" fill="#28905f" stroke="#1b6644" stroke-width="0.5"/>
<line x1="35.2" y1="223.7" x2="36.8" y2="223.7" stroke="#777" stroke-width="0.5"/>
<text x="34.6" y="225.1" font-size="3.85" text-anchor="end" fill="#111">AKAP95</text>
<rect x="37.05" y="227.9" width="68.23" height="3.3" fill="#28905f" stroke="#1b6644" stroke-width="0.5"/>
<line x1="35.2" y1="229.55" x2="36.8" y2="229.55" stroke="#777" stroke-width="0.5"/>
<text x="34.6" y="230.95" font-size="3.85" text-anchor="end" fill="#111">VEGF</text>
<rect x="37.05" y="233.75" width="37.18" height="3.3" fill="#28905f" stroke="#1b6644" stroke-width="0.5"/>
<line x1="35.2" y1="235.4" x2="36.8" y2="235.4" stroke="#777" stroke-width="0.5"/>
<text x="34.6" y="236.8" font-size="3.85" text-anchor="end" fill="#111">EIF</text>
<rect x="37.05" y="239.6" width="65.86" height="3.3" fill="#28905f" stroke="#1b6644" stroke-width="0.5"/>
<line x1="35.2" y1="241.25" x2="36.8" y2="241.25" stroke="#777" stroke-width="0.5"/>
<text x="34.6" y="242.65" font-size="3.85" text-anchor="end" fill="#111">G1</text>
<rect x="37.05" y="245.45" width="56.14" height="3.3" fill="#28905f" stroke="#1b6644" stroke-width="0.5"/>
<line x1="35.2" y1="247.1" x2="36.8" y2="247.1" stroke="#777" stroke-width="0.5"/>
<text x="34.6" y="248.5" font-size="3.85" text-anchor="end" fill="#111">NOS1</text>
<rect x="37.05" y="251.3" width="23.2" height="3.3" fill="#28905f" stroke="#1b6644" stroke-width="0.5"/>
<line x1="35.2" y1="252.95" x2="36.8" y2="252.95" stroke="#777" stroke-width="0.5"/>
<text x="34.6" y="254.35" font-size="3.85" text-anchor="end" fill="#111">RNA</text>
<rect x="37.05" y="257.15" width="51.64" height="3.3" fill="#28905f" stroke="#1b6644" stroke-width="0.5"/>
<line x1="35.2" y1="258.8" x2="36.8" y2="258.8" stroke="#777" stroke-width="0.5"/>
<text x="34.6" y="260.2" font-size="3.85" text-anchor="end" fill="#111">CHEMICAL</text>
<rect x="37.05" y="263" width="34.58" height="3.3" fill="#28905f" stroke="#1b6644" stroke-width="0.5"/>
<line x1="35.2" y1="264.65" x2="36.8" y2="264.65" stroke="#777" stroke-width="0.5"/>
<text x="34.6" y="266.05" font-size="3.85" text-anchor="end" fill="#111">HIF</text>
<rect x="37.05" y="268.85" width="42.16" height="3.3" fill="#28905f" stroke="#1b6644" stroke-width="0.5"/>
<line x1="35.2" y1="270.5" x2="36.8" y2="270.5" stroke="#777" stroke-width="0.5"/>
<text x="34.6" y="271.9" font-size="3.85" text-anchor="end" fill="#111">ETS</text>
<rect x="37.05" y="274.7" width="44.29" height="3.3" fill="#28905f" stroke="#1b6644" stroke-width="0.5"/>
<line x1="35.2" y1="276.35" x2="36.8" y2="276.35" stroke="#777" stroke-width="0.5"/>
<text x="34.6" y="277.75" font-size="3.85" text-anchor="end" fill="#111">STATHMIN</text>
<rect x="37.05" y="280.55" width="84.82" height="3.3" fill="#28905f" stroke="#1b6644" stroke-width="0.5"/>
<line x1="35.2" y1="282.2" x2="36.8" y2="282.2" stroke="#777" stroke-width="0.5"/>
<text x="34.6" y="283.6" font-size="3.85" text-anchor="end" fill="#111">AGR</text>
<rect x="37.05" y="286.4" width="108.52" height="3.3" fill="#28905f" stroke="#1b6644" stroke-width="0.5"/>
<line x1="35.2" y1="288.05" x2="36.8" y2="288.05" stroke="#777" stroke-width="0.5"/>
<text x="34.6" y="289.45" font-size="3.85" text-anchor="end" fill="#111">KERATINOCYTE</text>
<rect x="37.05" y="292.25" width="56.14" height="3.3" fill="#28905f" stroke="#1b6644" stroke-width="0.5"/>
<line x1="35.2" y1="293.9" x2="36.8" y2="293.9" stroke="#777" stroke-width="0.5"/>
<text x="34.6" y="295.3" font-size="3.85" text-anchor="end" fill="#111">G2</text>
<rect x="37.05" y="298.1" width="32.68" height="3.3" fill="#28905f" stroke="#1b6644" stroke-width="0.5"/>
<line x1="35.2" y1="299.75" x2="36.8" y2="299.75" stroke="#777" stroke-width="0.5"/>
<text x="34.6" y="301.15" font-size="3.85" text-anchor="end" fill="#111">DREAM</text>
<rect x="37.05" y="303.95" width="34.58" height="3.3" fill="#28905f" stroke="#1b6644" stroke-width="0.5"/>
<line x1="35.2" y1="305.6" x2="36.8" y2="305.6" stroke="#777" stroke-width="0.5"/>
<text x="34.6" y="307" font-size="3.85" text-anchor="end" fill="#111">HSP27</text>
<rect x="37.05" y="309.8" width="58.51" height="3.3" fill="#28905f" stroke="#1b6644" stroke-width="0.5"/>
<line x1="35.2" y1="311.45" x2="36.8" y2="311.45" stroke="#777" stroke-width="0.5"/>
<text x="34.6" y="312.85" font-size="3.85" text-anchor="end" fill="#111">MCALPAIN</text>
<rect x="37.05" y="315.65" width="37.18" height="3.3" fill="#28905f" stroke="#1b6644" stroke-width="0.5"/>
<line x1="35.2" y1="317.3" x2="36.8" y2="317.3" stroke="#777" stroke-width="0.5"/>
<text x="34.6" y="318.7" font-size="3.85" text-anchor="end" fill="#111">P53</text>
<polyline points="36.7,200.35 39.6,206.2 42.5,212.05 43.3,217.9 48.3,223.75 50,229.6 54,235.45 59.8,241.3 67.3,247.15 80,253 80.8,258.85 90.2,264.7 95.2,270.55 105.3,276.4 111.1,282.25 112.8,288.1 137,293.95 138.5,299.8 138.5,305.65 142.1,311.5 143.5,317.35" fill="none" stroke="#aa2a24" stroke-width="1.35" stroke-linejoin="round"/>
<circle cx="36.7" cy="200.35" r="0.95" fill="#aa2a24"/>
<circle cx="39.6" cy="206.2" r="0.95" fill="#aa2a24"/>
<circle cx="42.5" cy="212.05" r="0.95" fill="#aa2a24"/>
<circle cx="43.3" cy="217.9" r="0.95" fill="#aa2a24"/>
<circle cx="48.3" cy="223.75" r="0.95" fill="#aa2a24"/>
<circle cx="50" cy="229.6" r="0.95" fill="#aa2a24"/>
<circle cx="54" cy="235.45" r="0.95" fill="#aa2a24"/>
<circle cx="59.8" cy="241.3" r="0.95" fill="#aa2a24"/>
<circle cx="67.3" cy="247.15" r="0.95" fill="#aa2a24"/>
<circle cx="80" cy="253" r="0.95" fill="#aa2a24"/>
<circle cx="80.8" cy="258.85" r="0.95" fill="#aa2a24"/>
<circle cx="90.2" cy="264.7" r="0.95" fill="#aa2a24"/>
<circle cx="95.2" cy="270.55" r="0.95" fill="#aa2a24"/>
<circle cx="105.3" cy="276.4" r="0.95" fill="#aa2a24"/>
<circle cx="111.1" cy="282.25" r="0.95" fill="#aa2a24"/>
<circle cx="112.8" cy="288.1" r="0.95" fill="#aa2a24"/>
<circle cx="137" cy="293.95" r="0.95" fill="#aa2a24"/>
<circle cx="138.5" cy="299.8" r="0.95" fill="#aa2a24"/>
<circle cx="138.5" cy="305.65" r="0.95" fill="#aa2a24"/>
<circle cx="142.1" cy="311.5" r="0.95" fill="#aa2a24"/>
<circle cx="143.5" cy="317.35" r="0.95" fill="#aa2a24"/>
<text x="147" y="205.2" font-size="10" font-weight="bold" text-anchor="end">6dG</text>
<text x="163.3" y="186.4" font-size="14" font-weight="bold">E</text>
<rect x="198.6" y="195.9" width="110.2" height="125.4" fill="none" stroke="#c8c8c8" stroke-width="0.7"/>
<line x1="217.2" y1="194.1" x2="217.2" y2="195.9" stroke="#9ab" stroke-width="0.5"/>
<text x="217.2" y="191.7" font-size="4.3" text-anchor="middle" fill="#6f968a">10</text>
<line x1="235.8" y1="194.1" x2="235.8" y2="195.9" stroke="#9ab" stroke-width="0.5"/>
<text x="235.8" y="191.7" font-size="4.3" text-anchor="middle" fill="#6f968a">20</text>
<line x1="254.4" y1="194.1" x2="254.4" y2="195.9" stroke="#9ab" stroke-width="0.5"/>
<text x="254.4" y="191.7" font-size="4.3" text-anchor="middle" fill="#6f968a">30</text>
<line x1="273" y1="194.1" x2="273" y2="195.9" stroke="#9ab" stroke-width="0.5"/>
<text x="273" y="191.7" font-size="4.3" text-anchor="middle" fill="#6f968a">40</text>
<line x1="291.6" y1="194.1" x2="291.6" y2="195.9" stroke="#9ab" stroke-width="0.5"/>
<text x="291.6" y="191.7" font-size="4.3" text-anchor="middle" fill="#6f968a">50</text>
<text x="253.5" y="185.7" font-size="4.3" text-anchor="middle" fill="#6f968a"># of Genes</text>
<line x1="198.6" y1="321.3" x2="308.8" y2="321.3" stroke="#d08080" stroke-width="0.6"/>
<line x1="198.6" y1="321.3" x2="198.6" y2="322.9" stroke="#d08080" stroke-width="0.5"/>
<text x="198.6" y="327.9" font-size="4.2" text-anchor="middle" fill="#c04040">0</text>
<line x1="220.4" y1="321.3" x2="220.4" y2="322.9" stroke="#d08080" stroke-width="0.5"/>
<text x="220.4" y="327.9" font-size="4.2" text-anchor="middle" fill="#c04040">0.01</text>
<line x1="242.2" y1="321.3" x2="242.2" y2="322.9" stroke="#d08080" stroke-width="0.5"/>
<text x="242.2" y="327.9" font-size="4.2" text-anchor="middle" fill="#c04040">0.02</text>
<line x1="264" y1="321.3" x2="264" y2="322.9" stroke="#d08080" stroke-width="0.5"/>
<text x="264" y="327.9" font-size="4.2" text-anchor="middle" fill="#c04040">0.03</text>
<line x1="285.8" y1="321.3" x2="285.8" y2="322.9" stroke="#d08080" stroke-width="0.5"/>
<text x="285.8" y="327.9" font-size="4.2" text-anchor="middle" fill="#c04040">0.04</text>
<line x1="307.6" y1="321.3" x2="307.6" y2="322.9" stroke="#d08080" stroke-width="0.5"/>
<text x="307.6" y="327.9" font-size="4.2" text-anchor="middle" fill="#c04040">0.05</text>
<text x="253" y="334.5" font-size="4.6" text-anchor="middle" fill="#c03030">P Value</text>
<rect x="198.85" y="197.35" width="23.31" height="6.6" fill="#28905f" stroke="#1b6644" stroke-width="0.5"/>
<line x1="197" y1="200.65" x2="198.6" y2="200.65" stroke="#777" stroke-width="0.5"/>
<text x="196.4" y="202.05" font-size="3.8" text-anchor="end" fill="#111">ARENRF2</text>
<rect x="198.85" y="208.93" width="53.44" height="6.6" fill="#28905f" stroke="#1b6644" stroke-width="0.5"/>
<line x1="197" y1="212.23" x2="198.6" y2="212.23" stroke="#777" stroke-width="0.5"/>
<text x="196.4" y="213.63" font-size="3.8" text-anchor="end" fill="#111">NKT</text>
<rect x="198.85" y="220.51" width="85.8" height="6.6" fill="#28905f" stroke="#1b6644" stroke-width="0.5"/>
<line x1="197" y1="223.81" x2="198.6" y2="223.81" stroke="#777" stroke-width="0.5"/>
<text x="196.4" y="225.21" font-size="3.8" text-anchor="end" fill="#111">KERATINOCYTE</text>
<rect x="198.85" y="232.09" width="32.79" height="6.6" fill="#28905f" stroke="#1b6644" stroke-width="0.5"/>
<line x1="197" y1="235.39" x2="198.6" y2="235.39" stroke="#777" stroke-width="0.5"/>
<text x="196.4" y="236.79" font-size="3.8" text-anchor="end" fill="#111">CARDIACEGF</text>
<rect x="198.85" y="243.67" width="53.44" height="6.6" fill="#28905f" stroke="#1b6644" stroke-width="0.5"/>
<line x1="197" y1="246.97" x2="198.6" y2="246.97" stroke="#777" stroke-width="0.5"/>
<text x="196.4" y="248.37" font-size="3.8" text-anchor="end" fill="#111">INFLAM</text>
<rect x="198.85" y="255.25" width="27.4" height="6.6" fill="#28905f" stroke="#1b6644" stroke-width="0.5"/>
<line x1="197" y1="258.55" x2="198.6" y2="258.55" stroke="#777" stroke-width="0.5"/>
<text x="196.4" y="259.95" font-size="3.8" text-anchor="end" fill="#111">HIF</text>
<rect x="198.85" y="266.83" width="29.26" height="6.6" fill="#28905f" stroke="#1b6644" stroke-width="0.5"/>
<line x1="197" y1="270.13" x2="198.6" y2="270.13" stroke="#777" stroke-width="0.5"/>
<text x="196.4" y="271.53" font-size="3.8" text-anchor="end" fill="#111">CDMAC</text>
<rect x="198.85" y="278.41" width="32.79" height="6.6" fill="#28905f" stroke="#1b6644" stroke-width="0.5"/>
<line x1="197" y1="281.71" x2="198.6" y2="281.71" stroke="#777" stroke-width="0.5"/>
<text x="196.4" y="283.11" font-size="3.8" text-anchor="end" fill="#111">ETS</text>
<rect x="198.85" y="289.99" width="42.28" height="6.6" fill="#28905f" stroke="#1b6644" stroke-width="0.5"/>
<line x1="197" y1="293.29" x2="198.6" y2="293.29" stroke="#777" stroke-width="0.5"/>
<text x="196.4" y="294.69" font-size="3.8" text-anchor="end" fill="#111">GLEEVEC</text>
<rect x="198.85" y="301.57" width="49.72" height="6.6" fill="#28905f" stroke="#1b6644" stroke-width="0.5"/>
<line x1="197" y1="304.87" x2="198.6" y2="304.87" stroke="#777" stroke-width="0.5"/>
<text x="196.4" y="306.27" font-size="3.8" text-anchor="end" fill="#111">EDG1</text>
<rect x="198.85" y="313.15" width="109.7" height="6.6" fill="#28905f" stroke="#1b6644" stroke-width="0.5"/>
<line x1="197" y1="316.45" x2="198.6" y2="316.45" stroke="#777" stroke-width="0.5"/>
<text x="196.4" y="317.85" font-size="3.8" text-anchor="end" fill="#111">PPARA</text>
<polyline points="205.6,198.8 205.6,210.4 206.7,222 206.7,233.5 208,246 208.6,258.5 208.75,260 210,271.25 215,277.5 221.25,285 226.25,292.5 226.75,303.75 252.5,306.25 285,312.5 307.5,317" fill="none" stroke="#aa2a24" stroke-width="1.35" stroke-linejoin="round"/>
<circle cx="205.6" cy="198.8" r="0.95" fill="#aa2a24"/>
<circle cx="205.6" cy="210.4" r="0.95" fill="#aa2a24"/>
<circle cx="206.7" cy="222" r="0.95" fill="#aa2a24"/>
<circle cx="206.7" cy="233.5" r="0.95" fill="#aa2a24"/>
<circle cx="208" cy="246" r="0.95" fill="#aa2a24"/>
<circle cx="208.6" cy="258.5" r="0.95" fill="#aa2a24"/>
<circle cx="208.75" cy="260" r="0.95" fill="#aa2a24"/>
<circle cx="210" cy="271.25" r="0.95" fill="#aa2a24"/>
<circle cx="215" cy="277.5" r="0.95" fill="#aa2a24"/>
<circle cx="221.25" cy="285" r="0.95" fill="#aa2a24"/>
<circle cx="226.25" cy="292.5" r="0.95" fill="#aa2a24"/>
<circle cx="226.75" cy="303.75" r="0.95" fill="#aa2a24"/>
<circle cx="252.5" cy="306.25" r="0.95" fill="#aa2a24"/>
<circle cx="285" cy="312.5" r="0.95" fill="#aa2a24"/>
<circle cx="307.5" cy="317" r="0.95" fill="#aa2a24"/>
<text x="309.4" y="205.8" font-size="10" font-weight="bold" text-anchor="end">BIBR</text>
<text x="0.8" y="337.6" font-size="14" font-weight="bold">F</text>
<text x="35.5" y="342.2" font-size="8.2" font-weight="bold" text-anchor="middle" textLength="13.5" lengthAdjust="spacingAndGlyphs">Ctrl</text>
<text x="52.6" y="342.2" font-size="8.2" font-weight="bold" text-anchor="middle" textLength="17.5" lengthAdjust="spacingAndGlyphs">BIBR</text>
<text x="72.2" y="342.2" font-size="8.2" font-weight="bold" text-anchor="middle" textLength="15.5" lengthAdjust="spacingAndGlyphs">6dG</text>
<rect x="26.2" y="344.3" width="19.2" height="8.85" fill="#f8fafa"/>
<rect x="44.8" y="344.3" width="18.5" height="8.85" fill="#f2241a"/>
<rect x="62.7" y="344.3" width="18" height="8.85" fill="#2222ef"/>
<rect x="26.2" y="352.55" width="19.2" height="8.85" fill="#f5a09c"/>
<rect x="44.8" y="352.55" width="18.5" height="8.85" fill="#f3463e"/>
<rect x="62.7" y="352.55" width="18" height="8.85" fill="#1616ee"/>
<rect x="26.2" y="360.79" width="19.2" height="8.85" fill="#f5a09c"/>
<rect x="44.8" y="360.79" width="18.5" height="8.85" fill="#f3463e"/>
<rect x="62.7" y="360.79" width="18" height="8.85" fill="#1616ee"/>
<rect x="26.2" y="369.04" width="19.2" height="8.85" fill="#f47e78"/>
<rect x="44.8" y="369.04" width="18.5" height="8.85" fill="#f4736d"/>
<rect x="62.7" y="369.04" width="18" height="8.85" fill="#1616ee"/>
<rect x="26.2" y="377.28" width="19.2" height="8.85" fill="#f35149"/>
<rect x="44.8" y="377.28" width="18.5" height="8.85" fill="#f59490"/>
<rect x="62.7" y="377.28" width="18" height="8.85" fill="#1616ee"/>
<rect x="26.2" y="385.53" width="19.2" height="8.85" fill="#f35c55"/>
<rect x="44.8" y="385.53" width="18.5" height="8.85" fill="#f59490"/>
<rect x="62.7" y="385.53" width="18" height="8.85" fill="#1616ee"/>
<rect x="26.2" y="393.77" width="19.2" height="8.85" fill="#f2241a"/>
<rect x="44.8" y="393.77" width="18.5" height="8.85" fill="#f7d8d6"/>
<rect x="62.7" y="393.77" width="18" height="8.85" fill="#1616ee"/>
<rect x="26.2" y="402.02" width="19.2" height="8.85" fill="#f2241a"/>
<rect x="44.8" y="402.02" width="18.5" height="8.85" fill="#f7f5f5"/>
<rect x="62.7" y="402.02" width="18" height="8.85" fill="#1616ee"/>
<rect x="26.2" y="410.26" width="19.2" height="8.85" fill="#f2241a"/>
<rect x="44.8" y="410.26" width="18.5" height="8.85" fill="#f7f5f5"/>
<rect x="62.7" y="410.26" width="18" height="8.85" fill="#1616ee"/>
<rect x="26.2" y="418.51" width="19.2" height="8.85" fill="#f2241a"/>
<rect x="44.8" y="418.51" width="18.5" height="8.85" fill="#4646f1"/>
<rect x="62.7" y="418.51" width="18" height="8.85" fill="#a6a6f5"/>
<rect x="26.2" y="426.75" width="19.2" height="8.25" fill="#f2241a"/>
<rect x="44.8" y="426.75" width="18.5" height="8.25" fill="#8e8ef4"/>
<rect x="62.7" y="426.75" width="18" height="8.25" fill="#4646f1"/>
<text x="0" y="350.72" font-size="6.5" fill="#111" transform="translate(82 0) scale(0.946 1)">ROETH_TERT_TARGETS_UP (<tspan font-style="italic">n</tspan> = 14)</text>
<text x="0" y="358.97" font-size="6.5" fill="#111" transform="translate(82 0) scale(0.946 1)">KANG_IMMORTALIZED_BY_TERT_UP (<tspan font-style="italic">n</tspan> = 89)</text>
<text x="0" y="367.21" font-size="6.5" fill="#111" transform="translate(82 0) scale(0.946 1)">REACTOME_PACKAGING_OF_TELOMERE_ENDS (<tspan font-style="italic">n</tspan> = 48)</text>
<text x="0" y="375.46" font-size="6.5" fill="#111" transform="translate(82 0) scale(0.946 1)">LINDVALL_IMMORTALIZED_BY_TERT_UP (<tspan font-style="italic">n</tspan> = 78)</text>
<text x="0" y="383.7" font-size="6.5" fill="#111" transform="translate(82 0) scale(0.946 1)">REACTOME_TELOMERE_MAINTENANCE (<tspan font-style="italic">n</tspan> = 75)</text>
<text x="0" y="391.95" font-size="6.5" fill="#111" transform="translate(82 0) scale(0.946 1)">DAIRKEE_TERT_TARGETS_UP (<tspan font-style="italic">n</tspan> = 380)</text>
<text x="0" y="400.2" font-size="6.5" fill="#111" transform="translate(82 0) scale(0.946 1)">SMITH_TERT_TARGETS_UP (<tspan font-style="italic">n</tspan> = 145)</text>
<text x="0" y="408.44" font-size="6.5" fill="#111" transform="translate(82 0) scale(0.946 1)">BIOCARTA_TEL_PATHWAY (<tspan font-style="italic">n</tspan> = 18)</text>
<text x="0" y="416.69" font-size="6.5" fill="#111" transform="translate(82 0) scale(0.946 1)">GO_POSITIVE_REGULATION_OF_TELOMERASE_ACTIVITY (<tspan font-style="italic">n</tspan> = 28)</text>
<text x="0" y="424.93" font-size="6.5" fill="#111" transform="translate(82 0) scale(0.946 1)">GO_POSITIVE_REGULATION_OF_TELOMERE_MAINTENANCE (<tspan font-style="italic">n</tspan> = 47)</text>
<text x="0" y="433.18" font-size="6.5" fill="#111" transform="translate(82 0) scale(0.946 1)">PID_TELOMERASE_PATHWAY (<tspan font-style="italic">n</tspan> = 68)</text>
<rect x="285.4" y="343.8" width="2.8" height="36" fill="url(#lg)"/>
<text x="289.6" y="346.4" font-size="4.9" fill="#333">1</text>
<text x="289.6" y="354.65" font-size="4.9" fill="#333">0.5</text>
<text x="289.6" y="362.9" font-size="4.9" fill="#333">0</text>
<text x="289.6" y="371.15" font-size="4.9" fill="#333">-0.5</text>
<text x="289.6" y="379.4" font-size="4.9" fill="#333">-1</text>
<polyline points="26,348.5 22,348.5 22,372 18,372" fill="none" stroke="#999" stroke-width="0.6"/>
<polyline points="26,356.7 24,356.7 24,365 26,365" fill="none" stroke="#999" stroke-width="0.6"/>
<polyline points="24,361 22,361" fill="none" stroke="#999" stroke-width="0.6"/>
<polyline points="26,373.3 24,373.3 24,381.5 26,381.5" fill="none" stroke="#999" stroke-width="0.6"/>
<polyline points="24,377 22,377 22,372" fill="none" stroke="#999" stroke-width="0.6"/>
<polyline points="18,372 14,372 14,410 17,410" fill="none" stroke="#999" stroke-width="0.6"/>
<polyline points="26,390 22,390 22,402 17,402 17,418 22,418 22,426 26,426" fill="none" stroke="#999" stroke-width="0.6"/>
<polyline points="22,398 26,398" fill="none" stroke="#999" stroke-width="0.6"/>
<polyline points="22,406 26,406" fill="none" stroke="#999" stroke-width="0.6"/>
<polyline points="22,422 24,422 24,431 26,431" fill="none" stroke="#999" stroke-width="0.6"/>
<text x="304.2" y="367.6" font-size="14" font-weight="bold">J</text>
<text x="339.8" y="375.9" font-size="7.6" font-weight="bold" text-anchor="middle" textLength="18.2" lengthAdjust="spacingAndGlyphs">A375</text>
<line x1="331.3" y1="386.6" x2="331.3" y2="469.3" stroke="#000" stroke-width="1.1"/>
<line x1="330.8" y1="468.8" x2="359" y2="468.8" stroke="#000" stroke-width="1.1"/>
<line x1="328.5" y1="468.8" x2="331.3" y2="468.8" stroke="#000" stroke-width="0.9"/>
<text x="328.1" y="470.9" font-size="6.2" text-anchor="end" fill="#333">0.0</text>
<line x1="328.5" y1="441.4" x2="331.3" y2="441.4" stroke="#000" stroke-width="0.9"/>
<text x="328.1" y="443.5" font-size="6.2" text-anchor="end" fill="#333">0.5</text>
<line x1="328.5" y1="414" x2="331.3" y2="414" stroke="#000" stroke-width="0.9"/>
<text x="328.1" y="416.1" font-size="6.2" text-anchor="end" fill="#333">1.0</text>
<line x1="328.5" y1="386.6" x2="331.3" y2="386.6" stroke="#000" stroke-width="0.9"/>
<text x="328.1" y="388.7" font-size="6.2" text-anchor="end" fill="#333">1.5</text>
<line x1="338.7" y1="468.8" x2="338.7" y2="471.4" stroke="#000" stroke-width="0.9"/>
<line x1="353.2" y1="468.8" x2="353.2" y2="471.4" stroke="#000" stroke-width="0.9"/>
<rect x="333.8" y="417.29" width="10" height="51.51" fill="#808080" stroke="#000" stroke-width="1"/>
<line x1="338.8" y1="417.29" x2="338.8" y2="414" stroke="#000" stroke-width="0.9"/>
<line x1="336.8" y1="414" x2="340.8" y2="414" stroke="#000" stroke-width="0.9"/>
<rect x="348.2" y="448.52" width="10" height="20.28" fill="url(#chk2)" stroke="#000" stroke-width="1"/>
<line x1="353.2" y1="448.52" x2="353.2" y2="446.61" stroke="#000" stroke-width="0.9"/>
<line x1="351.2" y1="446.61" x2="355.2" y2="446.61" stroke="#000" stroke-width="0.9"/>
<text x="353.2" y="446.6" font-size="9" font-weight="bold" text-anchor="middle">*</text>
<text x="309.6" y="426.8" font-size="7.0" font-weight="bold" text-anchor="middle" transform="rotate(-90 309.6 426.8)" textLength="87" lengthAdjust="spacingAndGlyphs">Relative expression of <tspan font-style="italic">TERT</tspan></text>
<text x="340.5" y="474.3" font-size="6.4" font-weight="bold" text-anchor="end" transform="rotate(-50 340.5 474.3)">shCtrl</text>
<text x="355" y="474.3" font-size="6.4" font-weight="bold" text-anchor="end" transform="rotate(-50 355 474.3)">shTERT</text>
<text x="359.4" y="367.7" font-size="14" font-weight="bold">K</text>
<text x="402" y="376.1" font-size="7.6" font-weight="bold" text-anchor="middle" textLength="18.5" lengthAdjust="spacingAndGlyphs">A375</text>
<line x1="387.9" y1="387" x2="387.9" y2="469.1" stroke="#000" stroke-width="1.1"/>
<line x1="387.4" y1="468.6" x2="425" y2="468.6" stroke="#000" stroke-width="1.1"/>
<line x1="385.1" y1="468.6" x2="387.9" y2="468.6" stroke="#000" stroke-width="0.9"/>
<text x="384.7" y="470.7" font-size="6.2" text-anchor="end" fill="#333">0</text>
<line x1="385.1" y1="441.4" x2="387.9" y2="441.4" stroke="#000" stroke-width="0.9"/>
<text x="384.7" y="443.5" font-size="6.2" text-anchor="end" fill="#333">5</text>
<line x1="385.1" y1="414.2" x2="387.9" y2="414.2" stroke="#000" stroke-width="0.9"/>
<text x="384.7" y="416.3" font-size="6.2" text-anchor="end" fill="#333">10</text>
<line x1="385.1" y1="387" x2="387.9" y2="387" stroke="#000" stroke-width="0.9"/>
<text x="384.7" y="389.1" font-size="6.2" text-anchor="end" fill="#333">15</text>
<line x1="398.6" y1="468.6" x2="398.6" y2="471.2" stroke="#000" stroke-width="0.9"/>
<line x1="415.6" y1="468.6" x2="415.6" y2="471.2" stroke="#000" stroke-width="0.9"/>
<line x1="398.6" y1="416.92" x2="398.6" y2="401.69" stroke="#333" stroke-width="0.9"/>
<line x1="396.2" y1="401.69" x2="401" y2="401.69" stroke="#333" stroke-width="0.9"/>
<rect x="392.5" y="416.92" width="12.2" height="51.68" fill="url(#chk2)" stroke="#000" stroke-width="1"/>
<line x1="415.6" y1="457.72" x2="415.6" y2="453.64" stroke="#333" stroke-width="0.9"/>
<line x1="413.2" y1="453.64" x2="418" y2="453.64" stroke="#333" stroke-width="0.9"/>
<rect x="409.3" y="457.72" width="12.6" height="10.88" fill="url(#hln)" stroke="#000" stroke-width="1"/>
<text x="415.6" y="451.2" font-size="9" font-weight="bold" text-anchor="middle">*</text>
<text x="370.3" y="429.2" font-size="6.9" font-weight="bold" text-anchor="middle" textLength="83" lengthAdjust="spacingAndGlyphs" transform="rotate(-90 370.3 429.2)">Telomerase product per cell</text>
<text x="400.3" y="474.3" font-size="6.4" font-weight="bold" text-anchor="end" transform="rotate(-50 400.3 474.3)">shCtrl</text>
<text x="417.4" y="474.3" font-size="6.4" font-weight="bold" text-anchor="end" transform="rotate(-50 417.4 474.3)">shTERT</text>
<text x="418.6" y="378.9" font-size="14" font-weight="bold">L</text>
<text x="481.5" y="376.8" font-size="7.6" font-weight="bold" text-anchor="middle" textLength="17.5" lengthAdjust="spacingAndGlyphs">A375</text>
<line x1="454" y1="387.5" x2="454" y2="464.5" stroke="#000" stroke-width="1.1"/>
<line x1="453.5" y1="464" x2="517.5" y2="464" stroke="#000" stroke-width="1.1"/>
<line x1="451.4" y1="464" x2="454" y2="464" stroke="#000" stroke-width="0.9"/>
<text x="451" y="465.9" font-size="5.4" text-anchor="end" fill="#333">0</text>
<line x1="451.4" y1="444.88" x2="454" y2="444.88" stroke="#000" stroke-width="0.9"/>
<text x="451" y="446.77" font-size="5.4" text-anchor="end" fill="#333">20</text>
<line x1="451.4" y1="425.75" x2="454" y2="425.75" stroke="#000" stroke-width="0.9"/>
<text x="451" y="427.65" font-size="5.4" text-anchor="end" fill="#333">40</text>
<line x1="451.4" y1="406.62" x2="454" y2="406.62" stroke="#000" stroke-width="0.9"/>
<text x="451" y="408.52" font-size="5.4" text-anchor="end" fill="#333">60</text>
<line x1="451.4" y1="387.5" x2="454" y2="387.5" stroke="#000" stroke-width="0.9"/>
<text x="451" y="389.4" font-size="5.4" text-anchor="end" fill="#333">80</text>
<line x1="464.5" y1="464" x2="464.5" y2="466.4" stroke="#000" stroke-width="0.9"/>
<line x1="486.5" y1="464" x2="486.5" y2="466.4" stroke="#000" stroke-width="0.9"/>
<line x1="509" y1="464" x2="509" y2="466.4" stroke="#000" stroke-width="0.9"/>
<rect x="457.2" y="456.35" width="6" height="7.65" fill="#7a7a7a" stroke="#000" stroke-width="0.9"/>
<rect x="466" y="459.22" width="6" height="4.78" fill="url(#chk2)" stroke="#000" stroke-width="0.9"/>
<rect x="479.2" y="414.27" width="6" height="49.73" fill="#7a7a7a" stroke="#000" stroke-width="0.9"/>
<rect x="487.9" y="434.36" width="6" height="29.64" fill="url(#chk2)" stroke="#000" stroke-width="0.9"/>
<rect x="501.7" y="406.62" width="6" height="57.38" fill="#7a7a7a" stroke="#000" stroke-width="0.9"/>
<rect x="510.5" y="430.53" width="6" height="33.47" fill="url(#chk2)" stroke="#000" stroke-width="0.9"/>
<text x="491" y="431.8" font-size="6.5" font-weight="bold" text-anchor="middle">*</text>
<text x="513.5" y="428.4" font-size="6.5" font-weight="bold" text-anchor="middle">*</text>
<rect x="455.6" y="387.4" width="10.5" height="5" fill="#7a7a7a" stroke="#000" stroke-width="0.9"/>
<rect x="455.6" y="396.6" width="10.5" height="5" fill="url(#chk2)" stroke="#000" stroke-width="0.9"/>
<text x="468.4" y="392.4" font-size="6.4" font-weight="bold" fill="#111" textLength="17.5" lengthAdjust="spacingAndGlyphs">shCtrl</text>
<text x="468.4" y="401.4" font-size="6.4" font-weight="bold" fill="#111" textLength="21" lengthAdjust="spacingAndGlyphs">shTERT</text>
<text x="436.3" y="427.3" font-size="6.9" font-weight="bold" text-anchor="middle" textLength="93" lengthAdjust="spacingAndGlyphs" transform="rotate(-90 436.3 427.3)">% of Apoptotic/dead cells</text>
<text x="466.1" y="469.2" font-size="4.6" font-weight="bold" text-anchor="end" transform="rotate(-40 466.1 469.2)">6dG 0 μmol/L</text>
<text x="488.1" y="469.2" font-size="4.6" font-weight="bold" text-anchor="end" transform="rotate(-40 488.1 469.2)">6dG 2.5 μmol/L</text>
<text x="510.6" y="469.2" font-size="4.6" font-weight="bold" text-anchor="end" transform="rotate(-40 510.6 469.2)">6dG 5 μmol/L</text>
<text x="-0.8" y="456.4" font-size="14" font-weight="bold">M</text>
<text x="45.5" y="459.2" font-size="9.4" font-weight="bold" text-anchor="middle" textLength="16.2" lengthAdjust="spacingAndGlyphs">Ctrl</text>
<text x="82.2" y="459.2" font-size="9.4" font-weight="bold" text-anchor="middle" textLength="18" lengthAdjust="spacingAndGlyphs">6dG</text>
<rect x="27.6" y="460.8" width="18.45" height="7.99" fill="#f59490"/>
<rect x="45.45" y="460.8" width="18.45" height="7.99" fill="#f23a32"/>
<rect x="63.3" y="460.8" width="18.45" height="7.99" fill="#1616ee"/>
<rect x="81.15" y="460.8" width="17.85" height="7.99" fill="#b2b2f6"/>
<rect x="27.6" y="468.19" width="18.45" height="7.99" fill="#f35149"/>
<rect x="45.45" y="468.19" width="18.45" height="7.99" fill="#f35c55"/>
<rect x="63.3" y="468.19" width="18.45" height="7.99" fill="#1616ee"/>
<rect x="81.15" y="468.19" width="17.85" height="7.99" fill="#9a9af5"/>
<rect x="27.6" y="475.57" width="18.45" height="7.99" fill="#f4736d"/>
<rect x="45.45" y="475.57" width="18.45" height="7.99" fill="#f23a32"/>
<rect x="63.3" y="475.57" width="18.45" height="7.99" fill="#1616ee"/>
<rect x="81.15" y="475.57" width="17.85" height="7.99" fill="#6a6af2"/>
<rect x="27.6" y="482.96" width="18.45" height="7.99" fill="#f4736d"/>
<rect x="45.45" y="482.96" width="18.45" height="7.99" fill="#f23a32"/>
<rect x="63.3" y="482.96" width="18.45" height="7.99" fill="#1616ee"/>
<rect x="81.15" y="482.96" width="17.85" height="7.99" fill="#9a9af5"/>
<rect x="27.6" y="490.35" width="18.45" height="7.99" fill="#f2190f"/>
<rect x="45.45" y="490.35" width="18.45" height="7.99" fill="#f6b6b3"/>
<rect x="63.3" y="490.35" width="18.45" height="7.99" fill="#2e2eef"/>
<rect x="81.15" y="490.35" width="17.85" height="7.99" fill="#6a6af2"/>
<rect x="27.6" y="497.73" width="18.45" height="7.99" fill="#f2241a"/>
<rect x="45.45" y="497.73" width="18.45" height="7.99" fill="#f4736d"/>
<rect x="63.3" y="497.73" width="18.45" height="7.99" fill="#2e2eef"/>
<rect x="81.15" y="497.73" width="17.85" height="7.99" fill="#5252f1"/>
<rect x="27.6" y="505.12" width="18.45" height="7.99" fill="#f2241a"/>
<rect x="45.45" y="505.12" width="18.45" height="7.99" fill="#f46761"/>
<rect x="63.3" y="505.12" width="18.45" height="7.99" fill="#2e2eef"/>
<rect x="81.15" y="505.12" width="17.85" height="7.99" fill="#7676f3"/>
<rect x="27.6" y="512.51" width="18.45" height="7.99" fill="#f2241a"/>
<rect x="45.45" y="512.51" width="18.45" height="7.99" fill="#f35c55"/>
<rect x="63.3" y="512.51" width="18.45" height="7.99" fill="#2e2eef"/>
<rect x="81.15" y="512.51" width="17.85" height="7.99" fill="#7676f3"/>
<rect x="27.6" y="519.89" width="18.45" height="7.99" fill="#f2241a"/>
<rect x="45.45" y="519.89" width="18.45" height="7.99" fill="#f35c55"/>
<rect x="63.3" y="519.89" width="18.45" height="7.99" fill="#2e2eef"/>
<rect x="81.15" y="519.89" width="17.85" height="7.99" fill="#5252f1"/>
<rect x="27.6" y="527.28" width="18.45" height="7.99" fill="#f35149"/>
<rect x="45.45" y="527.28" width="18.45" height="7.99" fill="#f35c55"/>
<rect x="63.3" y="527.28" width="18.45" height="7.99" fill="#8282f4"/>
<rect x="81.15" y="527.28" width="17.85" height="7.99" fill="#0a0aee"/>
<rect x="27.6" y="534.67" width="18.45" height="7.99" fill="#f35149"/>
<rect x="45.45" y="534.67" width="18.45" height="7.99" fill="#f35c55"/>
<rect x="63.3" y="534.67" width="18.45" height="7.99" fill="#8282f4"/>
<rect x="81.15" y="534.67" width="17.85" height="7.99" fill="#0a0aee"/>
<rect x="27.6" y="542.05" width="18.45" height="7.99" fill="#f22f26"/>
<rect x="45.45" y="542.05" width="18.45" height="7.99" fill="#f35c55"/>
<rect x="63.3" y="542.05" width="18.45" height="7.99" fill="#6a6af2"/>
<rect x="81.15" y="542.05" width="17.85" height="7.99" fill="#2e2eef"/>
<rect x="27.6" y="549.44" width="18.45" height="7.99" fill="#f22f26"/>
<rect x="45.45" y="549.44" width="18.45" height="7.99" fill="#f47e78"/>
<rect x="63.3" y="549.44" width="18.45" height="7.99" fill="#8282f4"/>
<rect x="81.15" y="549.44" width="17.85" height="7.99" fill="#2e2eef"/>
<rect x="27.6" y="556.83" width="18.45" height="7.99" fill="#f5a09c"/>
<rect x="45.45" y="556.83" width="18.45" height="7.99" fill="#f2190f"/>
<rect x="63.3" y="556.83" width="18.45" height="7.99" fill="#5252f1"/>
<rect x="81.15" y="556.83" width="17.85" height="7.99" fill="#5252f1"/>
<rect x="27.6" y="564.21" width="18.45" height="7.99" fill="#f35149"/>
<rect x="45.45" y="564.21" width="18.45" height="7.99" fill="#f35149"/>
<rect x="63.3" y="564.21" width="18.45" height="7.99" fill="#5252f1"/>
<rect x="81.15" y="564.21" width="17.85" height="7.99" fill="#2222ef"/>
<rect x="27.6" y="571.6" width="18.45" height="7.99" fill="#f35149"/>
<rect x="45.45" y="571.6" width="18.45" height="7.99" fill="#f35149"/>
<rect x="63.3" y="571.6" width="18.45" height="7.99" fill="#5252f1"/>
<rect x="81.15" y="571.6" width="17.85" height="7.99" fill="#3a3af0"/>
<rect x="27.6" y="578.99" width="18.45" height="7.99" fill="#f35149"/>
<rect x="45.45" y="578.99" width="18.45" height="7.99" fill="#f35149"/>
<rect x="63.3" y="578.99" width="18.45" height="7.99" fill="#5252f1"/>
<rect x="81.15" y="578.99" width="17.85" height="7.99" fill="#2e2eef"/>
<rect x="27.6" y="586.37" width="18.45" height="7.99" fill="#f22f26"/>
<rect x="45.45" y="586.37" width="18.45" height="7.99" fill="#f35149"/>
<rect x="63.3" y="586.37" width="18.45" height="7.99" fill="#5252f1"/>
<rect x="81.15" y="586.37" width="17.85" height="7.99" fill="#2222ef"/>
<rect x="27.6" y="593.76" width="18.45" height="7.99" fill="#f35149"/>
<rect x="45.45" y="593.76" width="18.45" height="7.99" fill="#f35149"/>
<rect x="63.3" y="593.76" width="18.45" height="7.99" fill="#5252f1"/>
<rect x="81.15" y="593.76" width="17.85" height="7.99" fill="#5252f1"/>
<rect x="27.6" y="601.15" width="18.45" height="7.99" fill="#f35149"/>
<rect x="45.45" y="601.15" width="18.45" height="7.99" fill="#f35149"/>
<rect x="63.3" y="601.15" width="18.45" height="7.99" fill="#5252f1"/>
<rect x="81.15" y="601.15" width="17.85" height="7.99" fill="#5252f1"/>
<rect x="27.6" y="608.53" width="18.45" height="7.99" fill="#f35149"/>
<rect x="45.45" y="608.53" width="18.45" height="7.99" fill="#f35149"/>
<rect x="63.3" y="608.53" width="18.45" height="7.99" fill="#5252f1"/>
<rect x="81.15" y="608.53" width="17.85" height="7.99" fill="#5252f1"/>
<rect x="27.6" y="615.92" width="18.45" height="7.99" fill="#f35149"/>
<rect x="45.45" y="615.92" width="18.45" height="7.99" fill="#f35149"/>
<rect x="63.3" y="615.92" width="18.45" height="7.99" fill="#5252f1"/>
<rect x="81.15" y="615.92" width="17.85" height="7.99" fill="#5252f1"/>
<rect x="27.6" y="623.31" width="18.45" height="7.99" fill="#f47e78"/>
<rect x="45.45" y="623.31" width="18.45" height="7.99" fill="#f22f26"/>
<rect x="63.3" y="623.31" width="18.45" height="7.99" fill="#5252f1"/>
<rect x="81.15" y="623.31" width="17.85" height="7.99" fill="#5252f1"/>
<rect x="27.6" y="630.69" width="18.45" height="7.99" fill="#f35149"/>
<rect x="45.45" y="630.69" width="18.45" height="7.99" fill="#f22f26"/>
<rect x="63.3" y="630.69" width="18.45" height="7.99" fill="#5252f1"/>
<rect x="81.15" y="630.69" width="17.85" height="7.99" fill="#2e2eef"/>
<rect x="27.6" y="638.08" width="18.45" height="7.99" fill="#f35149"/>
<rect x="45.45" y="638.08" width="18.45" height="7.99" fill="#f35149"/>
<rect x="63.3" y="638.08" width="18.45" height="7.99" fill="#2e2eef"/>
<rect x="81.15" y="638.08" width="17.85" height="7.99" fill="#5252f1"/>
<rect x="27.6" y="645.47" width="18.45" height="7.99" fill="#f35149"/>
<rect x="45.45" y="645.47" width="18.45" height="7.99" fill="#f35149"/>
<rect x="63.3" y="645.47" width="18.45" height="7.99" fill="#2e2eef"/>
<rect x="81.15" y="645.47" width="17.85" height="7.99" fill="#5252f1"/>
<rect x="27.6" y="652.85" width="18.45" height="7.99" fill="#f35149"/>
<rect x="45.45" y="652.85" width="18.45" height="7.99" fill="#f35149"/>
<rect x="63.3" y="652.85" width="18.45" height="7.99" fill="#2e2eef"/>
<rect x="81.15" y="652.85" width="17.85" height="7.99" fill="#5252f1"/>
<rect x="27.6" y="660.24" width="18.45" height="7.99" fill="#f35149"/>
<rect x="45.45" y="660.24" width="18.45" height="7.99" fill="#f22f26"/>
<rect x="63.3" y="660.24" width="18.45" height="7.99" fill="#2e2eef"/>
<rect x="81.15" y="660.24" width="17.85" height="7.99" fill="#5252f1"/>
<rect x="27.6" y="667.63" width="18.45" height="7.99" fill="#f35149"/>
<rect x="45.45" y="667.63" width="18.45" height="7.99" fill="#f22f26"/>
<rect x="63.3" y="667.63" width="18.45" height="7.99" fill="#5252f1"/>
<rect x="81.15" y="667.63" width="17.85" height="7.99" fill="#5252f1"/>
<rect x="27.6" y="675.01" width="18.45" height="7.39" fill="#f35149"/>
<rect x="45.45" y="675.01" width="18.45" height="7.39" fill="#f22f26"/>
<rect x="63.3" y="675.01" width="18.45" height="7.39" fill="#5252f1"/>
<rect x="81.15" y="675.01" width="17.85" height="7.39" fill="#5252f1"/>
<text x="99.6" y="466.49" font-size="5.65" fill="#111">Myosin-IIa_pS1943-R-V</text>
<text x="99.6" y="473.88" font-size="5.65" fill="#111">Vimentin-M-C</text>
<text x="99.6" y="481.27" font-size="5.65" fill="#111">VEGFR-2-R-V</text>
<text x="99.6" y="488.65" font-size="5.65" fill="#111">IGFBP2-R-V</text>
<text x="99.6" y="496.04" font-size="5.65" fill="#111">Ubq-Histone-H2B-M-C</text>
<text x="99.6" y="503.43" font-size="5.65" fill="#111">CD171-M-V</text>
<text x="99.6" y="510.81" font-size="5.65" fill="#111">HER3_pY1289-R-C</text>
<text x="99.6" y="518.2" font-size="5.65" fill="#111">PREX1-R-V</text>
<text x="99.6" y="525.59" font-size="5.65" fill="#111">PKCa-R-V</text>
<text x="99.6" y="532.97" font-size="5.65" fill="#111">Fibronectin-R-V</text>
<text x="99.6" y="540.36" font-size="5.65" fill="#111">Tyro3-R-V</text>
<text x="99.6" y="547.75" font-size="5.65" fill="#111">ATRX-R-C</text>
<text x="99.6" y="555.13" font-size="5.65" fill="#111">LDHA-R-C</text>
<text x="99.6" y="562.52" font-size="5.65" fill="#111">ACC_pS79-R-V</text>
<text x="99.6" y="569.91" font-size="5.65" fill="#111">PLK1-R-C</text>
<text x="99.6" y="577.29" font-size="5.65" fill="#111">Stat3_pY705-R-V</text>
<text x="99.6" y="584.68" font-size="5.65" fill="#111">Aurora-B-R-V</text>
<text x="99.6" y="592.07" font-size="5.65" fill="#111">53BP1-R-V</text>
<text x="99.6" y="599.45" font-size="5.65" fill="#111">FoxM1-R-V</text>
<text x="99.6" y="606.84" font-size="5.65" fill="#111">Cyclin-B1-R-V</text>
<text x="99.6" y="614.23" font-size="5.65" fill="#111">PDGFR-b-R-V</text>
<text x="99.6" y="621.61" font-size="5.65" fill="#111">Transglutaminase-M-V</text>
<text x="99.6" y="629" font-size="5.65" fill="#111">CDK1-R-C</text>
<text x="99.6" y="636.39" font-size="5.65" fill="#111">Rock-1-R-C</text>
<text x="99.6" y="643.77" font-size="5.65" fill="#111">Chk2-M-V</text>
<text x="99.6" y="651.16" font-size="5.65" fill="#111">Rb_pS807_S811-R-V</text>
<text x="99.6" y="658.55" font-size="5.65" fill="#111">Chk1-M-C</text>
<text x="99.6" y="665.93" font-size="5.65" fill="#111">IGFRb-R-C</text>
<text x="99.6" y="673.32" font-size="5.65" fill="#111">ATM-R-V</text>
<text x="99.6" y="680.71" font-size="5.65" fill="#111">TSC1-R-C</text>
<rect x="162.5" y="460.6" width="2.6" height="34" fill="url(#lg)"/>
<text x="166.3" y="463.2" font-size="4.4" fill="#333">1</text>
<text x="166.3" y="470.95" font-size="4.4" fill="#333">0.5</text>
<text x="166.3" y="478.7" font-size="4.4" fill="#333">0</text>
<text x="166.3" y="486.45" font-size="4.4" fill="#333">-0.5</text>
<text x="166.3" y="494.2" font-size="4.4" fill="#333">-1</text>
<polyline points="27.6,464.49 25,464.49 25,471.88 27.6,471.88" fill="none" stroke="#c2c2c2" stroke-width="0.6"/>
<polyline points="27.6,479.27 25,479.27 25,486.65 27.6,486.65" fill="none" stroke="#c2c2c2" stroke-width="0.6"/>
<polyline points="25,468.19 22.5,468.19 22.5,482.96 25,482.96" fill="none" stroke="#c2c2c2" stroke-width="0.6"/>
<polyline points="27.6,501.43 25.5,501.43 25.5,508.82 27.6,508.82" fill="none" stroke="#c2c2c2" stroke-width="0.6"/>
<polyline points="27.6,516.2 25.5,516.2 25.5,523.59 27.6,523.59" fill="none" stroke="#c2c2c2" stroke-width="0.6"/>
<polyline points="27.6,494.04 23.5,494.04 23.5,505.12 25.5,505.12" fill="none" stroke="#c2c2c2" stroke-width="0.6"/>
<polyline points="25.5,519.89 21.5,519.89 21.5,501.43 23.5,501.43" fill="none" stroke="#c2c2c2" stroke-width="0.6"/>
<polyline points="27.6,530.98 25.5,530.98 25.5,538.36 27.6,538.36" fill="none" stroke="#c2c2c2" stroke-width="0.6"/>
<polyline points="27.6,545.75 25.5,545.75 25.5,553.14 27.6,553.14" fill="none" stroke="#c2c2c2" stroke-width="0.6"/>
<polyline points="25.5,534.67 23,534.67 23,549.44 25.5,549.44" fill="none" stroke="#c2c2c2" stroke-width="0.6"/>
<polyline points="21.5,512 18,512 18,542 23,542" fill="none" stroke="#c2c2c2" stroke-width="0.6"/>
<polyline points="22.5,475 11,475 11,530 18,530" fill="none" stroke="#c2c2c2" stroke-width="0.6"/>
<polyline points="27.6,567.91 26,567.91 26,575.3 27.6,575.3" fill="none" stroke="#c2c2c2" stroke-width="0.6"/>
<polyline points="27.6,582.69 26,582.69 26,590.07 27.6,590.07" fill="none" stroke="#c2c2c2" stroke-width="0.6"/>
<polyline points="27.6,597.46 26.5,597.46 26.5,604.85 27.6,604.85" fill="none" stroke="#c2c2c2" stroke-width="0.6"/>
<polyline points="27.6,612.23 26.5,612.23 26.5,619.62 27.6,619.62" fill="none" stroke="#c2c2c2" stroke-width="0.6"/>
<polyline points="27.6,641.78 26,641.78 26,649.17 27.6,649.17" fill="none" stroke="#c2c2c2" stroke-width="0.6"/>
<polyline points="27.6,656.56 26,656.56 26,663.94 27.6,663.94" fill="none" stroke="#c2c2c2" stroke-width="0.6"/>
<polyline points="27.6,671.33 26.5,671.33 26.5,678.72 27.6,678.72" fill="none" stroke="#c2c2c2" stroke-width="0.6"/>
<polyline points="27.6,560.52 24.5,560.52 24.5,571.61 26,571.61" fill="none" stroke="#c2c2c2" stroke-width="0.6"/>
<polyline points="26,586.38 24.5,586.38 24.5,601.15 26.5,601.15" fill="none" stroke="#c2c2c2" stroke-width="0.6"/>
<polyline points="26.5,615.92 24.5,615.92 24.5,627.01 27.6,627.01" fill="none" stroke="#c2c2c2" stroke-width="0.6"/>
<polyline points="27.6,634.39 24.5,634.39 24.5,645.47 26,645.47" fill="none" stroke="#c2c2c2" stroke-width="0.6"/>
<polyline points="26,660.25 24.5,660.25 24.5,675.03 26.5,675.03" fill="none" stroke="#c2c2c2" stroke-width="0.6"/>
<polyline points="24.5,566 22,566 22,625 24.5,625" fill="none" stroke="#c2c2c2" stroke-width="0.6"/>
<polyline points="24.5,640 22.5,640 22.5,670 24.5,670" fill="none" stroke="#c2c2c2" stroke-width="0.6"/>
<polyline points="22,600 20.5,600 20.5,655 22.5,655" fill="none" stroke="#c2c2c2" stroke-width="0.6"/>
<polyline points="11,502 8,502 8,625 20.5,625" fill="none" stroke="#c2c2c2" stroke-width="0.6"/>
<text x="188.2" y="505.2" font-size="14" font-weight="bold">N</text>
<text x="220" y="507.6" font-size="6.4" font-weight="bold" text-anchor="middle">48 h</text>
<text x="254.2" y="507.6" font-size="6.4" font-weight="bold" text-anchor="middle">72 h</text>
<line x1="213.4" y1="508.6" x2="226.6" y2="508.6" stroke="#000" stroke-width="0.7"/>
<line x1="247.6" y1="508.6" x2="260.8" y2="508.6" stroke="#000" stroke-width="0.7"/>
<text x="212.2" y="515.8" font-size="6.4" font-weight="bold" text-anchor="middle">Ctrl</text>
<text x="227.4" y="515.8" font-size="6.4" font-weight="bold" text-anchor="middle">6dG</text>
<text x="245.8" y="515.8" font-size="6.4" font-weight="bold" text-anchor="middle">Ctrl</text>
<text x="261.1" y="515.8" font-size="6.4" font-weight="bold" text-anchor="middle">6dG</text>
<rect x="204.3" y="517.2" width="64.7" height="10.4" fill="#c4c4c4" stroke="#262626" stroke-width="1"/>
<g filter="url(#bl)">
<rect x="206.1" y="520.9" width="13.2" height="4.6" rx="2.3" fill="#0a0a0a" fill-opacity="1"/>
<rect x="238.2" y="520.9" width="13.2" height="4.6" rx="2.3" fill="#0a0a0a" fill-opacity="1"/>
<rect x="222" y="522.1" width="13.2" height="3" rx="1.5" fill="#0a0a0a" fill-opacity="0.35"/>
<rect x="254.4" y="522.1" width="13.2" height="3" rx="1.5" fill="#0a0a0a" fill-opacity="0.14"/>
</g>
<rect x="204.3" y="531.5" width="64.7" height="10.9" fill="#a2a2a2" stroke="#262626" stroke-width="1"/>
<g filter="url(#bl)">
<rect x="206.1" y="534.6" width="13.2" height="4.6" rx="2.3" fill="#0a0a0a" fill-opacity="1"/>
<rect x="238.2" y="534.6" width="13.2" height="4.6" rx="2.3" fill="#0a0a0a" fill-opacity="1"/>
<rect x="222" y="536.3" width="13.2" height="2.6" rx="1.3" fill="#0a0a0a" fill-opacity="0.6"/>
<rect x="254.4" y="536.3" width="13.2" height="2.6" rx="1.3" fill="#0a0a0a" fill-opacity="0.5"/>
</g>
<rect x="204.3" y="546.2" width="64.7" height="13.2" fill="#bababa" stroke="#262626" stroke-width="1"/>
<g filter="url(#bl)">
<rect x="206.1" y="549.8" width="13.2" height="3.4" rx="1.7" fill="#0a0a0a" fill-opacity="1"/>
<rect x="222" y="549.8" width="13.2" height="3.4" rx="1.7" fill="#0a0a0a" fill-opacity="0.45"/>
<rect x="238.2" y="549.8" width="13.2" height="3.4" rx="1.7" fill="#0a0a0a" fill-opacity="0.9"/>
<rect x="254.4" y="549.8" width="13.2" height="3.4" rx="1.7" fill="#0a0a0a" fill-opacity="0.2"/>
<rect x="206.1" y="554.5" width="13.2" height="2.6" rx="1.3" fill="#0a0a0a" fill-opacity="0.5"/>
<rect x="222" y="554.5" width="13.2" height="2.6" rx="1.3" fill="#0a0a0a" fill-opacity="0.45"/>
<rect x="238.2" y="554.5" width="13.2" height="2.6" rx="1.3" fill="#0a0a0a" fill-opacity="0.45"/>
<rect x="254.4" y="554.5" width="13.2" height="2.6" rx="1.3" fill="#0a0a0a" fill-opacity="0.25"/>
</g>
<rect x="204.3" y="563.6" width="64.7" height="8.9" fill="#c6c6c6" stroke="#262626" stroke-width="1"/>
<g filter="url(#bl)">
<rect x="206.1" y="566.7" width="13.2" height="3" rx="1.5" fill="#0a0a0a" fill-opacity="1"/>
<rect x="222" y="566.7" width="13.2" height="3" rx="1.5" fill="#0a0a0a" fill-opacity="1"/>
<rect x="238.2" y="566.7" width="13.2" height="3" rx="1.5" fill="#0a0a0a" fill-opacity="0.95"/>
<rect x="254.4" y="566.7" width="13.2" height="3" rx="1.5" fill="#0a0a0a" fill-opacity="0.85"/>
</g>
<rect x="204.3" y="576.7" width="64.7" height="8.6" fill="#b6b6b6" stroke="#262626" stroke-width="1"/>
<g filter="url(#bl)">
<rect x="206.1" y="578.8" width="13.2" height="3" rx="1.5" fill="#0a0a0a" fill-opacity="0.95"/>
<rect x="222" y="578.8" width="13.2" height="3" rx="1.5" fill="#0a0a0a" fill-opacity="0.25"/>
<rect x="238.2" y="578.8" width="13.2" height="3" rx="1.5" fill="#0a0a0a" fill-opacity="0.6"/>
<rect x="254.4" y="578.8" width="13.2" height="3" rx="1.5" fill="#0a0a0a" fill-opacity="0.15"/>
</g>
<rect x="204.3" y="589.2" width="64.7" height="13.2" fill="#a6a6a6" stroke="#262626" stroke-width="1"/>
<g filter="url(#bl)">
<rect x="206.1" y="592.1" width="13.2" height="7" rx="2.5" fill="#0a0a0a" fill-opacity="1"/>
<rect x="222" y="592.1" width="13.2" height="7" rx="2.5" fill="#0a0a0a" fill-opacity="0.3"/>
<rect x="238.2" y="592.1" width="13.2" height="7" rx="2.5" fill="#0a0a0a" fill-opacity="1"/>
<rect x="254.4" y="592.1" width="13.2" height="7" rx="2.5" fill="#0a0a0a" fill-opacity="0.15"/>
</g>
<rect x="204.3" y="605.6" width="64.7" height="11.2" fill="#bbbbbb" stroke="#262626" stroke-width="1"/>
<g filter="url(#bl)">
<rect x="206.1" y="609.8" width="13.2" height="3.4" rx="1.7" fill="#0a0a0a" fill-opacity="0.95"/>
<rect x="222" y="609.8" width="13.2" height="3.4" rx="1.7" fill="#0a0a0a" fill-opacity="0.15"/>
<rect x="238.2" y="609.8" width="13.2" height="3.4" rx="1.7" fill="#0a0a0a" fill-opacity="0.95"/>
<rect x="254.4" y="609.8" width="13.2" height="3.4" rx="1.7" fill="#0a0a0a" fill-opacity="0.05"/>
</g>
<rect x="204.3" y="620.4" width="64.7" height="11.6" fill="#bdbdbd" stroke="#262626" stroke-width="1"/>
<rect x="221.7" y="621.2" width="13.8" height="10" fill="#e6e6e6" fill-opacity="0.3" filter="url(#bl)"/>
<rect x="254.1" y="621.2" width="13.8" height="10" fill="#e6e6e6" fill-opacity="0.3" filter="url(#bl)"/>
<g filter="url(#bl)">
<rect x="206.1" y="623.9" width="13.2" height="4.2" rx="2.1" fill="#0a0a0a" fill-opacity="1"/>
<rect x="238.2" y="623.9" width="13.2" height="4.2" rx="2.1" fill="#0a0a0a" fill-opacity="1"/>
</g>
<rect x="204.3" y="637" width="64.7" height="11.7" fill="#a6a6a6" stroke="#262626" stroke-width="1"/>
<g filter="url(#bl)">
<rect x="206.1" y="641.4" width="13.2" height="3.6" rx="1.8" fill="#0a0a0a" fill-opacity="1"/>
<rect x="222" y="641.4" width="13.2" height="3.6" rx="1.8" fill="#0a0a0a" fill-opacity="0.05"/>
<rect x="238.2" y="641.4" width="13.2" height="3.6" rx="1.8" fill="#0a0a0a" fill-opacity="0.7"/>
</g>
<rect x="204.3" y="652.2" width="64.7" height="8.1" fill="#787878" stroke="#262626" stroke-width="1"/>
<g filter="url(#bl)">
<rect x="206.1" y="654.8" width="13.2" height="3.2" rx="1.6" fill="#0a0a0a" fill-opacity="0.75"/>
<rect x="222" y="654.8" width="13.2" height="3.2" rx="1.6" fill="#0a0a0a" fill-opacity="0.25"/>
<rect x="238.2" y="654.8" width="13.2" height="3.2" rx="1.6" fill="#0a0a0a" fill-opacity="0.3"/>
<rect x="254.4" y="654.8" width="13.2" height="3.2" rx="1.6" fill="#0a0a0a" fill-opacity="0.2"/>
</g>
<rect x="204.3" y="664" width="64.7" height="9" fill="#6c6c6c" stroke="#262626" stroke-width="1"/>
<g filter="url(#bl)">
<rect x="206.1" y="667" width="13.2" height="3.2" rx="1.6" fill="#0a0a0a" fill-opacity="0.4"/>
<rect x="222" y="667" width="13.2" height="3.2" rx="1.6" fill="#0a0a0a" fill-opacity="0.25"/>
<rect x="238.2" y="667" width="13.2" height="3.2" rx="1.6" fill="#0a0a0a" fill-opacity="0.55"/>
<rect x="254.4" y="667" width="13.2" height="3.2" rx="1.6" fill="#0a0a0a" fill-opacity="0.35"/>
</g>
<rect x="204.3" y="676.2" width="64.7" height="9.9" fill="#cdcdcd" stroke="#262626" stroke-width="1"/>
<g filter="url(#bl)">
<rect x="206.1" y="679.5" width="13.2" height="4.6" rx="2.3" fill="#0a0a0a" fill-opacity="1"/>
<rect x="222" y="679.5" width="13.2" height="4.6" rx="2.3" fill="#0a0a0a" fill-opacity="1"/>
<rect x="238.2" y="679.5" width="13.2" height="4.6" rx="2.3" fill="#0a0a0a" fill-opacity="1"/>
<rect x="254.4" y="679.5" width="13.2" height="4.6" rx="2.3" fill="#0a0a0a" fill-opacity="1"/>
</g>
<text x="272.6" y="525.4" font-size="8.2" fill="#111" stroke="#111" stroke-width="0.22">p-Rb<tspan font-size="5.8" dy="-3.4" stroke-width="0.12">Ser807/811</tspan></text>
<text x="272.6" y="540.3" font-size="8.2" fill="#111" stroke="#111" stroke-width="0.22">Rb</text>
<text x="272.6" y="555.6" font-size="8.2" fill="#111" stroke="#111" stroke-width="0.22">Cyclin B1</text>
<text x="272.6" y="570.8" font-size="8.2" fill="#111" stroke="#111" stroke-width="0.22">CDK1</text>
<text x="272.6" y="583.6" font-size="8.2" fill="#111" stroke="#111" stroke-width="0.22">PLK1</text>
<text x="272.6" y="598.5" font-size="8.2" fill="#111" stroke="#111" stroke-width="0.22">FOXM1</text>
<text x="272.6" y="614.6" font-size="8.2" fill="#111" stroke="#111" stroke-width="0.22">IGFBP2</text>
<text x="272.6" y="629.4" font-size="8.2" fill="#111" stroke="#111" stroke-width="0.22">IGF-1Rβ</text>
<text x="272.6" y="645.5" font-size="8.2" fill="#111" stroke="#111" stroke-width="0.22">PDGFRβ</text>
<text x="272.6" y="658.8" font-size="8.2" fill="#111" stroke="#111" stroke-width="0.22">CHK1</text>
<text x="272.6" y="671.3" font-size="8.2" fill="#111" stroke="#111" stroke-width="0.22">CHK2</text>
<text x="272.6" y="684.4" font-size="8.2" fill="#111" stroke="#111" stroke-width="0.22">β-Actin</text>
<text x="334.6" y="506.2" font-size="14.5" font-weight="bold">O</text>
<text x="385.2" y="511.8" font-size="7" font-weight="bold" text-anchor="middle">6dG</text>
<text x="415.5" y="511.8" font-size="7" font-weight="bold" text-anchor="middle">GRN</text>
<text x="447.9" y="511.8" font-size="7" font-weight="bold" text-anchor="middle">BIBR</text>
<text x="362" y="520.3" font-size="7" font-weight="bold" text-anchor="middle">Ctrl</text>
<text x="379.9" y="520.3" font-size="7" font-weight="bold" text-anchor="middle">2.5</text>
<text x="392.8" y="520.3" font-size="7" font-weight="bold" text-anchor="middle">5</text>
<text x="409" y="520.3" font-size="7" font-weight="bold" text-anchor="middle">2.5</text>
<text x="424.5" y="520.3" font-size="7" font-weight="bold" text-anchor="middle">5</text>
<text x="441" y="520.3" font-size="7" font-weight="bold" text-anchor="middle">10</text>
<text x="454" y="520.3" font-size="7" font-weight="bold" text-anchor="middle">25</text>
<text x="467.8" y="519.8" font-size="7.6" fill="#111" textLength="25.5" lengthAdjust="spacingAndGlyphs" stroke="#111" stroke-width="0.2">μmol/L</text>
<rect x="352.2" y="522.6" width="112.8" height="11.4" fill="#c2c2c2" stroke="#262626" stroke-width="1"/>
<g filter="url(#bl)">
<rect x="353.3" y="527.2" width="14.6" height="4" rx="2" fill="#0a0a0a" fill-opacity="0.95"/>
<rect x="369.5" y="527.2" width="14.6" height="4" rx="2" fill="#0a0a0a" fill-opacity="0.9"/>
<rect x="401.9" y="525.9" width="14.6" height="4" rx="2" fill="#0a0a0a" fill-opacity="1"/>
<rect x="417.5" y="525.9" width="14.6" height="4" rx="2" fill="#0a0a0a" fill-opacity="1"/>
<rect x="432.7" y="525.9" width="14.6" height="4" rx="2" fill="#0a0a0a" fill-opacity="1"/>
<rect x="448.9" y="525.9" width="14.6" height="4" rx="2" fill="#0a0a0a" fill-opacity="0.95"/>
<rect x="385.3" y="527.9" width="14.6" height="3" rx="1.5" fill="#0a0a0a" fill-opacity="0.35"/>
</g>
<rect x="352.2" y="536.9" width="112.8" height="10.1" fill="#a4a4a4" stroke="#262626" stroke-width="1"/>
<g filter="url(#bl)">
<rect x="353.3" y="541" width="14.6" height="3.2" rx="1.6" fill="#0a0a0a" fill-opacity="0.9"/>
<rect x="369.5" y="541" width="14.6" height="3.2" rx="1.6" fill="#0a0a0a" fill-opacity="0.25"/>
<rect x="385.3" y="541" width="14.6" height="3.2" rx="1.6" fill="#0a0a0a" fill-opacity="0.03"/>
<rect x="401.9" y="539.2" width="14.6" height="3.4" rx="1.7" fill="#0a0a0a" fill-opacity="0.95"/>
<rect x="417.5" y="539.2" width="14.6" height="3.4" rx="1.7" fill="#0a0a0a" fill-opacity="0.9"/>
<rect x="432.7" y="539.2" width="14.6" height="3.4" rx="1.7" fill="#0a0a0a" fill-opacity="0.95"/>
<rect x="448.9" y="539.2" width="14.6" height="3.4" rx="1.7" fill="#0a0a0a" fill-opacity="0.95"/>
</g>
<rect x="352.2" y="550.5" width="112.8" height="9.9" fill="#b8b8b8" stroke="#262626" stroke-width="1"/>
<g filter="url(#bl)">
<rect x="353.3" y="553.9" width="14.6" height="3.2" rx="1.6" fill="#0a0a0a" fill-opacity="0.8"/>
<rect x="369.5" y="553.9" width="14.6" height="3.2" rx="1.6" fill="#0a0a0a" fill-opacity="0.3"/>
<rect x="385.3" y="553.9" width="14.6" height="3.2" rx="1.6" fill="#0a0a0a" fill-opacity="0.25"/>
<rect x="401.9" y="553.9" width="14.6" height="3.2" rx="1.6" fill="#0a0a0a" fill-opacity="0.85"/>
<rect x="417.5" y="553.9" width="14.6" height="3.2" rx="1.6" fill="#0a0a0a" fill-opacity="0.85"/>
<rect x="432.7" y="553.9" width="14.6" height="3.2" rx="1.6" fill="#0a0a0a" fill-opacity="0.85"/>
<rect x="448.9" y="553.9" width="14.6" height="3.2" rx="1.6" fill="#0a0a0a" fill-opacity="0.9"/>
</g>
<rect x="352.2" y="563" width="112.8" height="11.2" fill="#b4b4b4" stroke="#262626" stroke-width="1"/>
<g filter="url(#bl)">
<rect x="353.3" y="565.6" width="14.6" height="6" rx="2.5" fill="#0a0a0a" fill-opacity="1"/>
<rect x="369.5" y="565.6" width="14.6" height="6" rx="2.5" fill="#0a0a0a" fill-opacity="1"/>
<rect x="385.3" y="565.6" width="14.6" height="6" rx="2.5" fill="#0a0a0a" fill-opacity="0.65"/>
<rect x="401.9" y="565.6" width="14.6" height="6" rx="2.5" fill="#0a0a0a" fill-opacity="1"/>
<rect x="417.5" y="565.6" width="14.6" height="6" rx="2.5" fill="#0a0a0a" fill-opacity="1"/>
<rect x="432.7" y="565.6" width="14.6" height="6" rx="2.5" fill="#0a0a0a" fill-opacity="1"/>
<rect x="448.9" y="565.6" width="14.6" height="6" rx="2.5" fill="#0a0a0a" fill-opacity="0.95"/>
</g>
<rect x="352.2" y="576.8" width="112.8" height="9.2" fill="#c0c0c0" stroke="#262626" stroke-width="1"/>
<g filter="url(#bl)">
<rect x="353.3" y="579.6" width="14.6" height="3.2" rx="1.6" fill="#0a0a0a" fill-opacity="0.95"/>
<rect x="369.5" y="579.6" width="14.6" height="3.2" rx="1.6" fill="#0a0a0a" fill-opacity="0.9"/>
<rect x="385.3" y="579.6" width="14.6" height="3.2" rx="1.6" fill="#0a0a0a" fill-opacity="0.55"/>
<rect x="401.9" y="579.6" width="14.6" height="3.2" rx="1.6" fill="#0a0a0a" fill-opacity="0.9"/>
<rect x="417.5" y="579.6" width="14.6" height="3.2" rx="1.6" fill="#0a0a0a" fill-opacity="0.9"/>
<rect x="432.7" y="579.6" width="14.6" height="3.2" rx="1.6" fill="#0a0a0a" fill-opacity="0.9"/>
<rect x="448.9" y="579.6" width="14.6" height="3.2" rx="1.6" fill="#0a0a0a" fill-opacity="0.85"/>
</g>
<rect x="352.2" y="588.9" width="112.8" height="11.7" fill="#878787" stroke="#262626" stroke-width="1"/>
<g filter="url(#bl)">
<rect x="353.3" y="592.6" width="14.6" height="3.6" rx="1.8" fill="#0a0a0a" fill-opacity="0.6"/>
<rect x="401.9" y="591.4" width="14.6" height="6.4" rx="2.5" fill="#0a0a0a" fill-opacity="0.95"/>
<rect x="417.5" y="591.4" width="14.6" height="6.4" rx="2.5" fill="#0a0a0a" fill-opacity="0.95"/>
<rect x="432.7" y="591.4" width="14.6" height="6.4" rx="2.5" fill="#0a0a0a" fill-opacity="0.95"/>
<rect x="448.9" y="591.4" width="14.6" height="6.4" rx="2.5" fill="#0a0a0a" fill-opacity="0.9"/>
</g>
<rect x="352.2" y="603" width="112.8" height="15.9" fill="#b0b0b0" stroke="#262626" stroke-width="1"/>
<rect x="369.2" y="603.8" width="15.2" height="14.3" fill="#e6e6e6" fill-opacity="0.5" filter="url(#bl)"/>
<rect x="385" y="603.8" width="15.2" height="14.3" fill="#e6e6e6" fill-opacity="0.65" filter="url(#bl)"/>
<g filter="url(#bl)">
<rect x="353.3" y="606.1" width="14.6" height="5" rx="2.5" fill="#0a0a0a" fill-opacity="0.55"/>
<rect x="369.5" y="606.1" width="14.6" height="5" rx="2.5" fill="#0a0a0a" fill-opacity="0.12"/>
<rect x="385.3" y="606.1" width="14.6" height="5" rx="2.5" fill="#0a0a0a" fill-opacity="0.05"/>
<rect x="401.9" y="606.1" width="14.6" height="5" rx="2.5" fill="#0a0a0a" fill-opacity="0.95"/>
<rect x="417.5" y="606.1" width="14.6" height="5" rx="2.5" fill="#0a0a0a" fill-opacity="0.95"/>
<rect x="432.7" y="606.1" width="14.6" height="5" rx="2.5" fill="#0a0a0a" fill-opacity="0.95"/>
<rect x="448.9" y="606.1" width="14.6" height="5" rx="2.5" fill="#0a0a0a" fill-opacity="0.95"/>
<rect x="353.3" y="610.8" width="14.6" height="6" rx="2.5" fill="#0a0a0a" fill-opacity="1"/>
<rect x="369.5" y="610.8" width="14.6" height="6" rx="2.5" fill="#0a0a0a" fill-opacity="0.2"/>
<rect x="385.3" y="610.8" width="14.6" height="6" rx="2.5" fill="#0a0a0a" fill-opacity="0.08"/>
<rect x="401.9" y="610.8" width="14.6" height="6" rx="2.5" fill="#0a0a0a" fill-opacity="1"/>
<rect x="417.5" y="610.8" width="14.6" height="6" rx="2.5" fill="#0a0a0a" fill-opacity="1"/>
<rect x="432.7" y="610.8" width="14.6" height="6" rx="2.5" fill="#0a0a0a" fill-opacity="1"/>
<rect x="448.9" y="610.8" width="14.6" height="6" rx="2.5" fill="#0a0a0a" fill-opacity="1"/>
</g>
<rect x="352.2" y="621.8" width="112.8" height="9.2" fill="#bebebe" stroke="#262626" stroke-width="1"/>
<g filter="url(#bl)">
<rect x="353.3" y="625.8" width="14.6" height="3" rx="1.5" fill="#0a0a0a" fill-opacity="0.8"/>
<rect x="369.5" y="625.8" width="14.6" height="3" rx="1.5" fill="#0a0a0a" fill-opacity="0.65"/>
<rect x="385.3" y="625.8" width="14.6" height="3" rx="1.5" fill="#0a0a0a" fill-opacity="0.55"/>
<rect x="401.9" y="625.8" width="14.6" height="3" rx="1.5" fill="#0a0a0a" fill-opacity="0.9"/>
<rect x="417.5" y="625.8" width="14.6" height="3" rx="1.5" fill="#0a0a0a" fill-opacity="0.8"/>
<rect x="432.7" y="625.8" width="14.6" height="3" rx="1.5" fill="#0a0a0a" fill-opacity="0.85"/>
<rect x="448.9" y="625.8" width="14.6" height="3" rx="1.5" fill="#0a0a0a" fill-opacity="0.65"/>
</g>
<rect x="352.2" y="633.5" width="112.8" height="11.1" fill="#585858" stroke="#262626" stroke-width="1"/>
<g filter="url(#bl)">
<rect x="353.3" y="636.4" width="14.6" height="6" rx="2.5" fill="#0a0a0a" fill-opacity="0.3"/>
<rect x="369.5" y="636.4" width="14.6" height="6" rx="2.5" fill="#0a0a0a" fill-opacity="0.25"/>
<rect x="385.3" y="636.4" width="14.6" height="6" rx="2.5" fill="#0a0a0a" fill-opacity="0.25"/>
<rect x="401.9" y="636.4" width="14.6" height="6" rx="2.5" fill="#0a0a0a" fill-opacity="0.6"/>
<rect x="417.5" y="636.4" width="14.6" height="6" rx="2.5" fill="#0a0a0a" fill-opacity="0.6"/>
<rect x="432.7" y="636.4" width="14.6" height="6" rx="2.5" fill="#0a0a0a" fill-opacity="0.6"/>
<rect x="448.9" y="636.4" width="14.6" height="6" rx="2.5" fill="#0a0a0a" fill-opacity="0.5"/>
</g>
<rect x="352.2" y="647.7" width="112.8" height="11.7" fill="#a4a4a4" stroke="#262626" stroke-width="1"/>
<g filter="url(#bl)">
<rect x="353.3" y="651.6" width="14.6" height="4" rx="2" fill="#0a0a0a" fill-opacity="0.9"/>
<rect x="369.5" y="651.6" width="14.6" height="4" rx="2" fill="#0a0a0a" fill-opacity="0.45"/>
<rect x="385.3" y="651.6" width="14.6" height="4" rx="2" fill="#0a0a0a" fill-opacity="0.35"/>
<rect x="401.9" y="651.6" width="14.6" height="4" rx="2" fill="#0a0a0a" fill-opacity="1"/>
<rect x="417.5" y="651.6" width="14.6" height="4" rx="2" fill="#0a0a0a" fill-opacity="0.95"/>
<rect x="432.7" y="651.6" width="14.6" height="4" rx="2" fill="#0a0a0a" fill-opacity="0.95"/>
<rect x="448.9" y="651.6" width="14.6" height="4" rx="2" fill="#0a0a0a" fill-opacity="0.95"/>
</g>
<rect x="352.2" y="662.9" width="112.8" height="11.7" fill="#c8c8c8" stroke="#262626" stroke-width="1"/>
<g filter="url(#bl)">
<rect x="353.3" y="668" width="14.6" height="3.2" rx="1.6" fill="#0a0a0a" fill-opacity="0.95"/>
<rect x="369.5" y="668" width="14.6" height="3.2" rx="1.6" fill="#0a0a0a" fill-opacity="0.95"/>
<rect x="385.3" y="668" width="14.6" height="3.2" rx="1.6" fill="#0a0a0a" fill-opacity="0.9"/>
<rect x="401.9" y="668" width="14.6" height="3.2" rx="1.6" fill="#0a0a0a" fill-opacity="0.95"/>
<rect x="417.5" y="668" width="14.6" height="3.2" rx="1.6" fill="#0a0a0a" fill-opacity="0.95"/>
<rect x="432.7" y="668" width="14.6" height="3.2" rx="1.6" fill="#0a0a0a" fill-opacity="0.95"/>
<rect x="448.9" y="668" width="14.6" height="3.2" rx="1.6" fill="#0a0a0a" fill-opacity="0.95"/>
</g>
<rect x="352.2" y="677.7" width="112.8" height="10.9" fill="#c2c2c2" stroke="#262626" stroke-width="1"/>
<g filter="url(#bl)">
<rect x="353.3" y="681.1" width="14.6" height="5" rx="2.5" fill="#0a0a0a" fill-opacity="1"/>
<rect x="369.5" y="681.1" width="14.6" height="5" rx="2.5" fill="#0a0a0a" fill-opacity="1"/>
<rect x="385.3" y="681.1" width="14.6" height="5" rx="2.5" fill="#0a0a0a" fill-opacity="1"/>
<rect x="401.9" y="681.1" width="14.6" height="5" rx="2.5" fill="#0a0a0a" fill-opacity="1"/>
<rect x="417.5" y="681.1" width="14.6" height="5" rx="2.5" fill="#0a0a0a" fill-opacity="1"/>
<rect x="432.7" y="681.1" width="14.6" height="5" rx="2.5" fill="#0a0a0a" fill-opacity="1"/>
<rect x="448.9" y="681.1" width="14.6" height="5" rx="2.5" fill="#0a0a0a" fill-opacity="1"/>
</g>
<line x1="368.7" y1="603.6" x2="368.7" y2="618.3" stroke="#d4d4d4" stroke-width="0.7" stroke-opacity="0.6"/>
<line x1="384.7" y1="603.6" x2="384.7" y2="618.3" stroke="#d4d4d4" stroke-width="0.7" stroke-opacity="0.6"/>
<line x1="400.9" y1="603.6" x2="400.9" y2="618.3" stroke="#d4d4d4" stroke-width="0.7" stroke-opacity="0.6"/>
<line x1="417" y1="603.6" x2="417" y2="618.3" stroke="#d4d4d4" stroke-width="0.7" stroke-opacity="0.6"/>
<line x1="432.4" y1="603.6" x2="432.4" y2="618.3" stroke="#d4d4d4" stroke-width="0.7" stroke-opacity="0.6"/>
<line x1="448.1" y1="603.6" x2="448.1" y2="618.3" stroke="#d4d4d4" stroke-width="0.7" stroke-opacity="0.6"/>
<line x1="368.7" y1="589.5" x2="368.7" y2="600" stroke="#d4d4d4" stroke-width="0.7" stroke-opacity="0.6"/>
<line x1="384.7" y1="589.5" x2="384.7" y2="600" stroke="#d4d4d4" stroke-width="0.7" stroke-opacity="0.6"/>
<line x1="400.9" y1="589.5" x2="400.9" y2="600" stroke="#d4d4d4" stroke-width="0.7" stroke-opacity="0.6"/>
<line x1="417" y1="589.5" x2="417" y2="600" stroke="#d4d4d4" stroke-width="0.7" stroke-opacity="0.6"/>
<line x1="432.4" y1="589.5" x2="432.4" y2="600" stroke="#d4d4d4" stroke-width="0.7" stroke-opacity="0.6"/>
<line x1="448.1" y1="589.5" x2="448.1" y2="600" stroke="#d4d4d4" stroke-width="0.7" stroke-opacity="0.6"/>
<text x="467.8" y="529.8" font-size="8.4" fill="#111" stroke="#111" stroke-width="0.22">pRb<tspan font-size="6" dy="-3.4" stroke-width="0.12">S807/811</tspan></text>
<text x="467.8" y="543.6" font-size="8.4" fill="#111" stroke="#111" stroke-width="0.22">Rb</text>
<text x="467.8" y="557.8" font-size="8.4" fill="#111" stroke="#111" stroke-width="0.22">FOXM1</text>
<text x="467.8" y="570.8" font-size="8.4" fill="#111" stroke="#111" stroke-width="0.22">Cyclin B1</text>
<text x="467.8" y="583.8" font-size="8.4" fill="#111" stroke="#111" stroke-width="0.22">PLK1</text>
<text x="467.8" y="597.6" font-size="8.4" fill="#111" stroke="#111" stroke-width="0.22">PDGFRβ</text>
<text x="467.8" y="613.2" font-size="8.4" fill="#111" stroke="#111" stroke-width="0.22">IGF-IRβ</text>
<text x="467.8" y="629.6" font-size="8.4" fill="#111" stroke="#111" stroke-width="0.22">IGFBP2</text>
<text x="467.8" y="642.2" font-size="8.4" fill="#111" stroke="#111" stroke-width="0.22">pSTAT3<tspan font-size="6" dy="-3.4" stroke-width="0.12">Y705</tspan></text>
<text x="467.8" y="657.2" font-size="8.4" fill="#111" stroke="#111" stroke-width="0.22">pHER3<tspan font-size="6" dy="-3.4" stroke-width="0.12">Y1289</tspan></text>
<text x="467.8" y="671.8" font-size="8.4" fill="#111" stroke="#111" stroke-width="0.22">LDHA</text>
<text x="467.8" y="686" font-size="8.4" fill="#111" stroke="#111" stroke-width="0.22">β-Actin</text>
</svg>
</body></html>
